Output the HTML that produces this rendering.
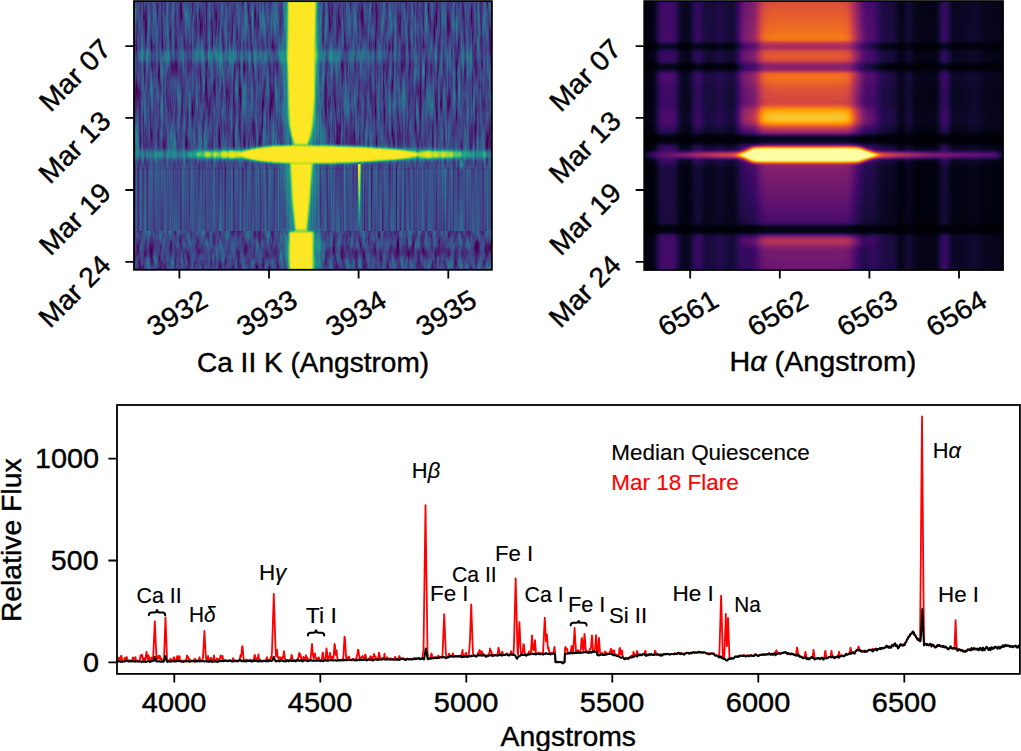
<!DOCTYPE html><html><head><meta charset="utf-8"><style>html,body{margin:0;padding:0;background:#fff;overflow:hidden}svg{display:block}</style></head><body><svg width="1021" height="751" viewBox="0 0 1021 751"><defs><clipPath id="clipB"><rect x="117.0" y="405.0" width="902.9" height="268.9"/></clipPath><filter id="cmV" filterUnits="userSpaceOnUse" x="134.0" y="1.1" width="357.9" height="268.7" color-interpolation-filters="sRGB"><feColorMatrix type="matrix" values="1 0 0 0 0 1 0 0 0 0 1 0 0 0 0 0 0 0 0 1"/><feComponentTransfer><feFuncR type="table" tableValues="0.267 0.277 0.282 0.283 0.279 0.271 0.259 0.245 0.230 0.214 0.199 0.186 0.173 0.161 0.149 0.138 0.128 0.121 0.121 0.132 0.158 0.197 0.246 0.304 0.369 0.440 0.516 0.596 0.678 0.762 0.846 0.926 0.993"/><feFuncG type="table" tableValues="0.005 0.050 0.095 0.136 0.175 0.214 0.252 0.288 0.322 0.356 0.388 0.419 0.449 0.479 0.508 0.537 0.567 0.596 0.626 0.655 0.684 0.712 0.739 0.765 0.789 0.811 0.831 0.849 0.864 0.876 0.887 0.897 0.906"/><feFuncB type="table" tableValues="0.329 0.376 0.417 0.453 0.483 0.507 0.525 0.537 0.546 0.551 0.555 0.557 0.558 0.558 0.557 0.555 0.551 0.544 0.533 0.520 0.502 0.479 0.452 0.420 0.383 0.341 0.294 0.243 0.190 0.137 0.100 0.104 0.144"/></feComponentTransfer></filter><filter id="cmI" filterUnits="userSpaceOnUse" x="644.25" y="1.1" width="358.75" height="268.9" color-interpolation-filters="sRGB"><feColorMatrix type="matrix" values="1 0 0 0 0 1 0 0 0 0 1 0 0 0 0 0 0 0 0 1"/><feComponentTransfer><feFuncR type="table" tableValues="0.001 0.014 0.042 0.082 0.129 0.183 0.238 0.291 0.342 0.391 0.441 0.491 0.541 0.591 0.640 0.689 0.736 0.781 0.822 0.861 0.894 0.923 0.947 0.965 0.978 0.986 0.988 0.984 0.975 0.961 0.948 0.955 0.988"/><feFuncG type="table" tableValues="0.000 0.011 0.028 0.043 0.047 0.040 0.037 0.046 0.062 0.081 0.099 0.117 0.135 0.153 0.171 0.192 0.216 0.243 0.275 0.312 0.353 0.399 0.449 0.502 0.558 0.616 0.675 0.736 0.798 0.859 0.917 0.966 0.998"/><feFuncB type="table" tableValues="0.014 0.072 0.141 0.215 0.291 0.355 0.396 0.419 0.429 0.433 0.432 0.426 0.415 0.400 0.381 0.358 0.330 0.300 0.266 0.231 0.194 0.155 0.115 0.074 0.035 0.026 0.065 0.130 0.206 0.298 0.411 0.540 0.645"/></feComponentTransfer></filter><filter id="nTop" filterUnits="userSpaceOnUse" x="134.0" y="1.1" width="357.9" height="166" color-interpolation-filters="sRGB"><feTurbulence type="fractalNoise" baseFrequency="0.36 0.025" numOctaves="3" seed="3"/><feColorMatrix type="matrix" values="0.72 0 0 0 -0.155 0.72 0 0 0 -0.155 0.72 0 0 0 -0.155 0 0 0 0 1"/></filter><filter id="nMid" filterUnits="userSpaceOnUse" x="134.0" y="160" width="357.9" height="71" color-interpolation-filters="sRGB"><feTurbulence type="fractalNoise" baseFrequency="0.45 0.005" numOctaves="2" seed="11"/><feColorMatrix type="matrix" values="0.62 0 0 0 -0.07500000000000001 0.62 0 0 0 -0.07500000000000001 0.62 0 0 0 -0.07500000000000001 0 0 0 0 1"/></filter><filter id="nBot" filterUnits="userSpaceOnUse" x="134.0" y="231" width="357.9" height="38.80000000000001" color-interpolation-filters="sRGB"><feTurbulence type="fractalNoise" baseFrequency="0.24 0.05" numOctaves="3" seed="5"/><feColorMatrix type="matrix" values="0.68 0 0 0 -0.13000000000000003 0.68 0 0 0 -0.13000000000000003 0.68 0 0 0 -0.13000000000000003 0 0 0 0 1"/></filter><filter id="bl1" x="-50%" y="-50%" width="200%" height="200%" color-interpolation-filters="sRGB"><feGaussianBlur stdDeviation="1.2 1.2"/></filter><filter id="bl05" x="-50%" y="-50%" width="200%" height="200%" color-interpolation-filters="sRGB"><feGaussianBlur stdDeviation="0.6 0.6"/></filter><filter id="bl2" x="-50%" y="-50%" width="200%" height="200%" color-interpolation-filters="sRGB"><feGaussianBlur stdDeviation="2.5 2.5"/></filter><filter id="bl3" x="-50%" y="-50%" width="200%" height="200%" color-interpolation-filters="sRGB"><feGaussianBlur stdDeviation="4 2"/></filter><linearGradient id="gFeather" gradientUnits="userSpaceOnUse" x1="0" y1="160" x2="0" y2="170"><stop offset="0" stop-color="#000"/><stop offset="1" stop-color="#fff"/></linearGradient><mask id="mFeather" maskUnits="userSpaceOnUse" x="130" y="150" width="370" height="90"><rect x="130" y="150" width="370" height="90" fill="url(#gFeather)"/></mask><linearGradient id="gBand" gradientUnits="userSpaceOnUse" x1="134" y1="0" x2="492" y2="0"><stop offset="0" stop-color="#fff" stop-opacity="0.14"/><stop offset="0.4" stop-color="#fff" stop-opacity="0.2"/><stop offset="0.5" stop-color="#fff" stop-opacity="0.22"/><stop offset="0.62" stop-color="#fff" stop-opacity="0.16"/><stop offset="0.8" stop-color="#fff" stop-opacity="0.07"/><stop offset="1" stop-color="#fff" stop-opacity="0.04"/></linearGradient><linearGradient id="gLine" x1="0" y1="0" x2="0" y2="1"><stop offset="0" stop-color="#fff" stop-opacity="1"/><stop offset="0.5" stop-color="#fff" stop-opacity="0.8"/><stop offset="1" stop-color="#fff" stop-opacity="0.15"/></linearGradient><linearGradient id="gWingL" gradientUnits="userSpaceOnUse" x1="134" y1="0" x2="240" y2="0"><stop offset="0" stop-color="#fff" stop-opacity="0.05"/><stop offset="0.5" stop-color="#fff" stop-opacity="0.1"/><stop offset="0.75" stop-color="#fff" stop-opacity="0.35"/><stop offset="1" stop-color="#fff" stop-opacity="0.75"/></linearGradient><linearGradient id="gWingR" gradientUnits="userSpaceOnUse" x1="420" y1="0" x2="492" y2="0"><stop offset="0" stop-color="#fff" stop-opacity="0.75"/><stop offset="0.45" stop-color="#fff" stop-opacity="0.4"/><stop offset="0.7" stop-color="#fff" stop-opacity="0.15"/><stop offset="1" stop-color="#fff" stop-opacity="0.1"/></linearGradient><clipPath id="clipL"><rect x="134.0" y="1.1" width="357.9" height="268.7"/></clipPath><clipPath id="clipR"><rect x="644.25" y="1.1" width="358.75" height="268.9"/></clipPath><linearGradient id="gOut" gradientUnits="userSpaceOnUse" x1="644" y1="0" x2="1004" y2="0"><stop offset="0.0000" stop-color="#070707"/><stop offset="0.0333" stop-color="#0a0a0a"/><stop offset="0.0417" stop-color="#3a3a3a"/><stop offset="0.0889" stop-color="#3a3a3a"/><stop offset="0.0972" stop-color="#111111"/><stop offset="0.1333" stop-color="#111111"/><stop offset="0.1389" stop-color="#333333"/><stop offset="0.1583" stop-color="#333333"/><stop offset="0.1639" stop-color="#1d1d1d"/><stop offset="0.1944" stop-color="#1d1d1d"/><stop offset="0.2000" stop-color="#242424"/><stop offset="0.2278" stop-color="#222222"/><stop offset="0.2333" stop-color="#181818"/><stop offset="0.2667" stop-color="#1f1f1f"/><stop offset="0.2833" stop-color="#000000"/><stop offset="0.6167" stop-color="#000000"/><stop offset="0.6333" stop-color="#242424"/><stop offset="0.7000" stop-color="#1f1f1f"/><stop offset="0.7083" stop-color="#0a0a0a"/><stop offset="0.7222" stop-color="#0a0a0a"/><stop offset="0.7278" stop-color="#1f1f1f"/><stop offset="0.7417" stop-color="#1d1d1d"/><stop offset="0.7472" stop-color="#0c0c0c"/><stop offset="0.8194" stop-color="#0c0c0c"/><stop offset="0.8250" stop-color="#353535"/><stop offset="0.8444" stop-color="#353535"/><stop offset="0.8500" stop-color="#111111"/><stop offset="0.8917" stop-color="#131313"/><stop offset="0.9194" stop-color="#181818"/><stop offset="0.9472" stop-color="#0f0f0f"/><stop offset="1.0000" stop-color="#0c0c0c"/></linearGradient><linearGradient id="gProf" gradientUnits="userSpaceOnUse" x1="644" y1="0" x2="1004" y2="0"><stop offset="0.0000" stop-color="#000000"/><stop offset="0.2556" stop-color="#000000"/><stop offset="0.2778" stop-color="#7a7a7a"/><stop offset="0.3111" stop-color="#999999"/><stop offset="0.3250" stop-color="#e6e6e6"/><stop offset="0.3389" stop-color="#fafafa"/><stop offset="0.3639" stop-color="#ffffff"/><stop offset="0.5444" stop-color="#ffffff"/><stop offset="0.5694" stop-color="#f7f7f7"/><stop offset="0.5889" stop-color="#a8a8a8"/><stop offset="0.6083" stop-color="#6b6b6b"/><stop offset="0.6306" stop-color="#383838"/><stop offset="0.6611" stop-color="#000000"/><stop offset="1.0000" stop-color="#000000"/></linearGradient><linearGradient id="gWing" gradientUnits="userSpaceOnUse" x1="644" y1="0" x2="1004" y2="0"><stop offset="0.0000" stop-color="#0d0d0d"/><stop offset="0.0333" stop-color="#3d3d3d"/><stop offset="0.1000" stop-color="#575757"/><stop offset="0.1556" stop-color="#757575"/><stop offset="0.2111" stop-color="#8c8c8c"/><stop offset="0.2556" stop-color="#9e9e9e"/><stop offset="0.6556" stop-color="#9e9e9e"/><stop offset="0.7111" stop-color="#808080"/><stop offset="0.7944" stop-color="#5c5c5c"/><stop offset="0.9778" stop-color="#404040"/><stop offset="1.0000" stop-color="#0d0d0d"/></linearGradient><linearGradient id="gOmod" gradientUnits="userSpaceOnUse" x1="0" y1="0" x2="0" y2="272"><stop offset="0.0000" stop-color="#d9d9d9"/><stop offset="0.1544" stop-color="#e6e6e6"/><stop offset="0.1618" stop-color="#404040"/><stop offset="0.1801" stop-color="#404040"/><stop offset="0.1875" stop-color="#cccccc"/><stop offset="0.2279" stop-color="#cccccc"/><stop offset="0.2353" stop-color="#333333"/><stop offset="0.2574" stop-color="#333333"/><stop offset="0.2647" stop-color="#e6e6e6"/><stop offset="0.2868" stop-color="#ffffff"/><stop offset="0.3309" stop-color="#d9d9d9"/><stop offset="0.3897" stop-color="#d9d9d9"/><stop offset="0.4301" stop-color="#ffffff"/><stop offset="0.4522" stop-color="#f2f2f2"/><stop offset="0.4890" stop-color="#999999"/><stop offset="0.5000" stop-color="#1a1a1a"/><stop offset="0.5257" stop-color="#1a1a1a"/><stop offset="0.5368" stop-color="#cccccc"/><stop offset="0.5993" stop-color="#cccccc"/><stop offset="0.6103" stop-color="#808080"/><stop offset="0.8235" stop-color="#737373"/><stop offset="0.8309" stop-color="#1a1a1a"/><stop offset="0.8566" stop-color="#1a1a1a"/><stop offset="0.8640" stop-color="#e6e6e6"/><stop offset="1.0000" stop-color="#e6e6e6"/></linearGradient><linearGradient id="gCval" gradientUnits="userSpaceOnUse" x1="0" y1="0" x2="0" y2="272"><stop offset="0.0000" stop-color="#949494"/><stop offset="0.0368" stop-color="#9e9e9e"/><stop offset="0.1103" stop-color="#adadad"/><stop offset="0.1471" stop-color="#b8b8b8"/><stop offset="0.1581" stop-color="#808080"/><stop offset="0.1765" stop-color="#6b6b6b"/><stop offset="0.1875" stop-color="#999999"/><stop offset="0.2132" stop-color="#a1a1a1"/><stop offset="0.2279" stop-color="#8c8c8c"/><stop offset="0.2353" stop-color="#616161"/><stop offset="0.2574" stop-color="#5c5c5c"/><stop offset="0.2684" stop-color="#adadad"/><stop offset="0.2868" stop-color="#b0b0b0"/><stop offset="0.3309" stop-color="#999999"/><stop offset="0.3824" stop-color="#8f8f8f"/><stop offset="0.4044" stop-color="#cccccc"/><stop offset="0.4301" stop-color="#e0e0e0"/><stop offset="0.4485" stop-color="#d6d6d6"/><stop offset="0.4706" stop-color="#8c8c8c"/><stop offset="0.4926" stop-color="#595959"/><stop offset="0.5000" stop-color="#0d0d0d"/><stop offset="0.5257" stop-color="#0d0d0d"/><stop offset="0.5368" stop-color="#6b6b6b"/><stop offset="0.5993" stop-color="#6b6b6b"/><stop offset="0.6103" stop-color="#5e5e5e"/><stop offset="0.6985" stop-color="#4f4f4f"/><stop offset="0.7904" stop-color="#3d3d3d"/><stop offset="0.8235" stop-color="#363636"/><stop offset="0.8309" stop-color="#080808"/><stop offset="0.8566" stop-color="#080808"/><stop offset="0.8676" stop-color="#5c5c5c"/><stop offset="0.8879" stop-color="#858585"/><stop offset="0.9007" stop-color="#6b6b6b"/><stop offset="0.9191" stop-color="#545454"/><stop offset="1.0000" stop-color="#4c4c4c"/></linearGradient><linearGradient id="gWrow" gradientUnits="userSpaceOnUse" x1="0" y1="0" x2="0" y2="272"><stop offset="0.0000" stop-color="#000000"/><stop offset="0.5533" stop-color="#000000"/><stop offset="0.5643" stop-color="#ffffff"/><stop offset="0.5754" stop-color="#ffffff"/><stop offset="0.5864" stop-color="#000000"/><stop offset="1.0000" stop-color="#000000"/></linearGradient><mask id="mOmod" maskUnits="userSpaceOnUse" x="600" y="-10" width="450" height="300"><rect x="600" y="-10" width="450" height="300" fill="url(#gOmod)"/></mask><mask id="mCval" maskUnits="userSpaceOnUse" x="600" y="-10" width="450" height="300"><rect x="600" y="-10" width="450" height="300" fill="url(#gCval)"/></mask><mask id="mWrow" maskUnits="userSpaceOnUse" x="600" y="-10" width="450" height="300"><rect x="600" y="-10" width="450" height="300" fill="url(#gWrow)"/></mask><filter id="cmIb" filterUnits="userSpaceOnUse" x="644.25" y="1.1" width="358.75" height="268.9" color-interpolation-filters="sRGB"><feGaussianBlur stdDeviation="2.6 1.6"/><feColorMatrix type="matrix" values="1 0 0 0 0 1 0 0 0 0 1 0 0 0 0 0 0 0 0 1"/><feComponentTransfer><feFuncR type="table" tableValues="0.001 0.014 0.042 0.082 0.129 0.183 0.238 0.291 0.342 0.391 0.441 0.491 0.541 0.591 0.640 0.689 0.736 0.781 0.822 0.861 0.894 0.923 0.947 0.965 0.978 0.986 0.988 0.984 0.975 0.961 0.948 0.955 0.988"/><feFuncG type="table" tableValues="0.000 0.011 0.028 0.043 0.047 0.040 0.037 0.046 0.062 0.081 0.099 0.117 0.135 0.153 0.171 0.192 0.216 0.243 0.275 0.312 0.353 0.399 0.449 0.502 0.558 0.616 0.675 0.736 0.798 0.859 0.917 0.966 0.998"/><feFuncB type="table" tableValues="0.014 0.072 0.141 0.215 0.291 0.355 0.396 0.419 0.429 0.433 0.432 0.426 0.415 0.400 0.381 0.358 0.330 0.300 0.266 0.231 0.194 0.155 0.115 0.074 0.035 0.026 0.065 0.130 0.206 0.298 0.411 0.540 0.645"/></feComponentTransfer></filter></defs><rect x="0" y="0" width="1021" height="751" fill="#fff"/><g filter="url(#cmV)" clip-path="url(#clipL)"><rect x="134.0" y="1.1" width="357.9" height="268.7" fill="#000"/><rect x="134.0" y="1.1" width="357.9" height="166" filter="url(#nTop)"/><g mask="url(#mFeather)"><rect x="134.0" y="160" width="357.9" height="71" filter="url(#nMid)"/></g><rect x="134.0" y="231" width="357.9" height="38.8" filter="url(#nBot)"/><rect x="134.0" y="50.5" width="357.9" height="11" fill="url(#gBand)" filter="url(#bl3)"/><rect x="134.0" y="248" width="150" height="8" fill="#000" opacity="0.2" filter="url(#bl3)"/><rect x="325" y="248" width="170" height="8" fill="#000" opacity="0.35" filter="url(#bl3)"/><rect x="134.0" y="150" width="357.9" height="9" fill="#fff" opacity="0.22" filter="url(#bl3)"/><path d="M283 0H321V145H283ZM282 164H320L313 231H289ZM284 231H322V270H284Z" fill="#fff" opacity="0.3" filter="url(#bl2)"/><ellipse cx="330" cy="154.3" rx="135" ry="5.5" fill="#fff" opacity="0.55" filter="url(#bl2)"/><path d="M287.5 1L287 60L288 100L289 125L291 135L294 145H308L311 135L313 125L315 100L315.5 60L316.5 1ZM289.8 163L292 200L295 230.5H307L310 200L312.8 163ZM289 231.5H313.5V270H289Z" fill="#fff" filter="url(#bl1)"/><path d="M235 154.3L245 150.5L259.4 147.2L275 145.6L294 145L330 145.6L360 146.6L380 148L400 149.6L412 151.5L424 154.6L412 157.6L400 159.4L380 161L360 162.5L330 163.7L294 163.7L275 163L259.4 161.5L245 158.3Z" fill="#fff" filter="url(#bl1)"/><path d="M357.9 164H360.7L360.3 200L359.9 226H358.5L358.3 200Z" fill="url(#gLine)" filter="url(#bl05)"/><ellipse cx="207.7" cy="154.5" rx="3.0" ry="3" fill="#fff" opacity="0.7200000000000001" filter="url(#bl1)"/><ellipse cx="215" cy="154.5" rx="2.4" ry="2.5" fill="#fff" opacity="0.5599999999999999" filter="url(#bl1)"/><ellipse cx="224" cy="154.5" rx="3.0" ry="3.2" fill="#fff" opacity="0.7200000000000001" filter="url(#bl1)"/><ellipse cx="232" cy="154.5" rx="3.5999999999999996" ry="3.8" fill="#fff" opacity="0.76" filter="url(#bl1)"/><ellipse cx="190" cy="154.5" rx="2.4" ry="2.5" fill="#fff" opacity="0.32000000000000006" filter="url(#bl1)"/><ellipse cx="160" cy="154.5" rx="1.7999999999999998" ry="3" fill="#fff" opacity="0.24" filter="url(#bl1)"/><ellipse cx="198" cy="154.5" rx="2.4" ry="2.5" fill="#fff" opacity="0.36000000000000004" filter="url(#bl1)"/><ellipse cx="428" cy="154.6" rx="3.5999999999999996" ry="3.5" fill="#fff" opacity="0.7200000000000001" filter="url(#bl1)"/><ellipse cx="436" cy="154.6" rx="2.4" ry="3" fill="#fff" opacity="0.6400000000000001" filter="url(#bl1)"/><ellipse cx="444" cy="154.6" rx="3.0" ry="3" fill="#fff" opacity="0.6400000000000001" filter="url(#bl1)"/><ellipse cx="451" cy="154.6" rx="2.4" ry="3" fill="#fff" opacity="0.5599999999999999" filter="url(#bl1)"/><ellipse cx="460" cy="154.6" rx="1.7999999999999998" ry="3" fill="#fff" opacity="0.4" filter="url(#bl1)"/><ellipse cx="470" cy="154.6" rx="1.7999999999999998" ry="3" fill="#fff" opacity="0.36000000000000004" filter="url(#bl1)"/><ellipse cx="485" cy="154.6" rx="1.7999999999999998" ry="3" fill="#fff" opacity="0.36000000000000004" filter="url(#bl1)"/><rect x="134" y="151" width="106" height="7" fill="url(#gWingL)" filter="url(#bl1)"/><rect x="420" y="151" width="72" height="7" fill="url(#gWingR)" filter="url(#bl1)"/><ellipse cx="461.4" cy="164" rx="1.2" ry="5" fill="#fff" opacity="0.6" filter="url(#bl1)"/></g><g clip-path="url(#clipR)"><g filter="url(#cmIb)"><rect x="636.25" y="-6.9" width="374.75" height="284.9" fill="#000"/><rect x="636.25" y="-6.9" width="374.75" height="284.9" fill="url(#gOut)" mask="url(#mOmod)"/><rect x="636.25" y="-6.9" width="374.75" height="284.9" fill="url(#gProf)" mask="url(#mCval)" style="mix-blend-mode:screen"/><rect x="636.25" y="-6.9" width="374.75" height="284.9" fill="url(#gWing)" mask="url(#mWrow)" style="mix-blend-mode:lighten"/><path d="M736.4 154.9L753 147.1H859L881 154.9L859 162.7H753Z" fill="#fff"/></g></g><g clip-path="url(#clipB)"><polyline points="117.0,660.9 117.5,659.9 118.0,657.5 118.5,659.5 119.0,659.7 119.5,658.0 120.0,658.0 120.5,659.7 121.0,655.8 121.5,655.8 122.0,659.9 122.5,661.3 123.0,661.3 123.5,661.0 124.0,660.9 124.5,658.0 125.0,658.2 125.5,660.1 126.0,658.5 126.5,656.9 127.0,657.9 127.5,659.5 128.0,660.8 128.5,660.9 129.0,660.5 129.5,660.5 130.0,660.4 130.5,660.6 131.0,660.8 131.5,660.8 132.0,660.3 132.5,658.9 133.0,657.4 133.5,657.8 134.0,659.5 134.5,660.9 135.0,659.2 135.5,657.2 136.0,660.4 136.5,661.0 137.0,660.6 137.5,660.7 138.0,660.6 138.5,661.2 139.0,661.3 139.5,660.8 140.0,659.6 140.5,655.4 141.0,656.9 141.5,656.3 142.0,654.6 142.5,656.9 143.0,659.5 143.5,659.8 144.0,658.4 144.5,660.6 145.0,660.8 145.5,658.5 146.0,655.4 146.5,652.0 147.0,655.1 147.5,658.3 148.0,659.3 148.5,655.4 149.0,656.9 149.5,659.7 150.0,661.2 150.5,661.0 151.0,659.6 151.5,657.3 152.0,658.7 152.5,660.5 153.0,660.4 153.5,650.4 154.0,639.4 154.5,628.1 154.8,621.3 155.0,625.7 155.5,637.0 156.0,648.3 156.5,658.6 157.0,657.4 157.5,659.4 158.0,656.2 158.5,658.1 159.0,655.7 159.5,658.3 160.0,656.0 160.5,659.6 161.0,658.2 161.5,658.8 162.0,660.4 162.5,661.0 163.0,660.9 163.5,660.7 164.0,658.7 164.5,645.0 165.0,631.3 165.4,620.2 165.5,617.4 166.0,631.2 166.5,645.0 167.0,658.9 167.5,661.0 168.0,660.4 168.5,660.3 169.0,660.9 169.5,661.2 170.0,660.0 170.5,658.7 171.0,660.1 171.5,660.7 172.0,660.7 172.5,659.8 173.0,659.8 173.5,658.0 174.0,657.1 174.5,658.2 175.0,661.0 175.5,660.8 176.0,660.2 176.5,660.2 177.0,656.9 177.5,656.0 178.0,659.6 178.5,660.8 179.0,657.5 179.5,656.1 180.0,659.8 180.5,661.1 181.0,661.3 181.5,661.3 182.0,660.8 182.5,660.5 183.0,660.9 183.5,661.4 184.0,661.1 184.5,660.7 185.0,660.3 185.5,660.4 186.0,660.5 186.5,658.5 187.0,655.4 187.5,656.6 188.0,658.3 188.5,657.3 189.0,660.0 189.5,660.8 190.0,659.8 190.5,660.5 191.0,660.3 191.5,660.5 192.0,660.8 192.5,661.0 193.0,660.9 193.5,660.7 194.0,660.3 194.5,658.8 195.0,660.4 195.5,659.2 196.0,660.1 196.5,660.9 197.0,661.0 197.5,660.9 198.0,660.4 198.5,660.0 199.0,658.6 199.5,657.3 200.0,659.6 200.5,660.8 201.0,660.9 201.5,660.5 202.0,660.3 202.5,659.9 203.0,657.3 203.5,647.9 204.0,638.7 204.4,631.0 204.5,632.9 205.0,642.4 205.5,651.8 206.0,658.1 206.5,660.2 207.0,658.7 207.5,659.2 208.0,656.0 208.5,660.2 209.0,660.7 209.5,660.5 210.0,659.5 210.5,658.1 211.0,657.8 211.5,659.8 212.0,660.9 212.5,660.6 213.0,660.4 213.5,658.1 214.0,655.5 214.5,659.7 215.0,660.3 215.5,660.2 216.0,660.4 216.5,659.6 217.0,658.3 217.5,659.7 218.0,659.4 218.5,659.6 219.0,659.1 219.5,659.4 220.0,659.0 220.5,655.4 221.0,656.9 221.5,657.6 222.0,658.1 222.5,655.9 223.0,658.5 223.5,660.3 224.0,660.8 224.5,660.3 225.0,660.0 225.5,660.2 226.0,660.7 226.5,660.5 227.0,660.6 227.5,660.6 228.0,660.7 228.5,660.6 229.0,660.2 229.5,660.0 230.0,660.1 230.5,660.5 231.0,660.6 231.5,660.5 232.0,660.7 232.5,660.2 233.0,658.1 233.5,659.2 234.0,660.5 234.5,660.4 235.0,660.3 235.5,660.4 236.0,660.4 236.5,660.6 237.0,660.9 237.5,660.9 238.0,660.6 238.5,660.4 239.0,660.0 239.5,660.1 240.0,658.1 240.5,655.1 241.0,656.9 241.5,653.3 242.0,647.4 242.5,646.1 243.0,651.9 243.5,657.8 244.0,660.5 244.5,660.5 245.0,660.3 245.5,660.0 246.0,660.1 246.5,660.4 247.0,659.5 247.5,660.3 248.0,660.1 248.5,660.2 249.0,660.2 249.5,660.3 250.0,659.8 250.5,659.7 251.0,659.6 251.5,660.3 252.0,660.7 252.5,660.6 253.0,660.4 253.5,660.4 254.0,659.2 254.5,655.2 255.0,655.1 255.5,658.6 256.0,660.4 256.5,660.4 257.0,660.3 257.5,657.9 258.0,657.0 258.5,654.3 259.0,659.1 259.5,659.9 260.0,659.8 260.5,660.2 261.0,660.7 261.5,661.0 262.0,660.8 262.5,660.7 263.0,660.6 263.5,660.5 264.0,660.4 264.5,660.4 265.0,660.4 265.5,660.4 266.0,660.4 266.5,658.1 267.0,657.1 267.5,659.6 268.0,659.9 268.5,660.0 269.0,659.8 269.5,660.0 270.0,659.3 270.5,658.7 271.0,656.7 271.5,658.7 272.0,651.3 272.5,635.5 273.0,619.5 273.5,603.4 273.8,593.9 274.0,600.4 274.5,616.4 275.0,632.3 275.5,648.3 276.0,656.5 276.5,651.0 277.0,649.7 277.5,655.4 278.0,657.5 278.5,657.2 279.0,659.6 279.5,658.7 280.0,657.2 280.5,658.2 281.0,660.0 281.5,660.0 282.0,658.0 282.5,656.8 283.0,658.2 283.5,655.2 284.0,651.2 284.5,655.4 285.0,659.4 285.5,660.7 286.0,660.2 286.5,659.9 287.0,659.8 287.5,660.2 288.0,660.1 288.5,660.1 289.0,660.0 289.5,660.2 290.0,660.3 290.5,660.2 291.0,658.6 291.5,655.0 292.0,655.7 292.5,659.4 293.0,660.4 293.5,660.2 294.0,660.1 294.5,660.4 295.0,660.2 295.5,660.3 296.0,660.2 296.5,660.0 297.0,659.5 297.5,659.2 298.0,659.3 298.5,657.3 299.0,653.7 299.5,652.9 300.0,656.7 300.5,654.6 301.0,657.0 301.5,660.0 302.0,660.4 302.5,660.5 303.0,659.2 303.5,656.9 304.0,658.6 304.5,659.5 305.0,659.6 305.5,657.4 306.0,655.1 306.5,658.7 307.0,657.3 307.5,658.0 308.0,659.3 308.5,660.3 309.0,660.4 309.5,659.9 310.0,659.2 310.5,659.2 311.0,654.8 311.5,649.3 312.0,644.0 312.5,649.6 313.0,655.2 313.5,658.2 314.0,654.5 314.5,655.1 315.0,653.4 315.5,658.5 316.0,658.1 316.5,658.7 317.0,659.7 317.5,658.8 318.0,658.1 318.5,657.2 319.0,658.2 319.5,659.8 320.0,660.2 320.5,660.2 321.0,660.1 321.5,660.1 322.0,658.4 322.5,653.3 323.0,652.6 323.5,657.8 324.0,659.6 324.5,659.7 325.0,659.6 325.5,659.2 326.0,653.9 326.5,648.4 327.0,651.7 327.5,657.4 328.0,659.9 328.5,656.9 329.0,656.3 329.5,657.5 330.0,652.8 330.5,657.3 331.0,659.5 331.5,657.0 332.0,657.1 332.5,658.2 333.0,656.2 333.5,658.0 334.0,652.2 334.5,644.0 335.0,645.6 335.5,653.8 336.0,655.3 336.5,650.1 337.0,655.4 337.5,659.4 338.0,659.7 338.5,659.9 339.0,660.1 339.5,660.1 340.0,659.8 340.5,659.8 341.0,660.0 341.5,659.8 342.0,659.7 342.5,660.0 343.0,660.0 343.5,654.9 344.0,645.8 344.5,636.7 345.0,638.6 345.5,647.5 346.0,656.0 346.5,659.4 347.0,659.4 347.5,657.5 348.0,658.2 348.5,657.8 349.0,656.6 349.5,658.5 350.0,659.8 350.5,659.8 351.0,659.7 351.5,659.8 352.0,659.6 352.5,659.2 353.0,658.8 353.5,659.1 354.0,659.6 354.5,659.7 355.0,659.4 355.5,659.6 356.0,659.6 356.5,657.4 357.0,656.1 357.5,653.8 358.0,649.6 358.5,650.4 359.0,654.4 359.5,657.4 360.0,658.7 360.5,658.4 361.0,657.5 361.5,657.2 362.0,656.6 362.5,656.0 363.0,657.6 363.5,657.8 364.0,659.5 364.5,657.9 365.0,654.9 365.5,654.7 366.0,657.2 366.5,659.6 367.0,659.8 367.5,659.6 368.0,659.6 368.5,659.4 369.0,659.4 369.5,659.5 370.0,656.9 370.5,656.2 371.0,658.9 371.5,657.7 372.0,657.2 372.5,658.9 373.0,659.4 373.5,656.7 374.0,654.0 374.5,656.7 375.0,656.8 375.5,656.3 376.0,658.4 376.5,659.2 377.0,659.0 377.5,658.9 378.0,659.2 378.5,655.9 379.0,652.6 379.5,654.5 380.0,657.7 380.5,658.8 381.0,658.9 381.5,658.7 382.0,658.2 382.5,658.0 383.0,658.3 383.5,657.9 384.0,657.9 384.5,653.6 385.0,657.2 385.5,659.3 386.0,659.1 386.5,658.6 387.0,657.2 387.5,658.1 388.0,658.9 388.5,658.6 389.0,658.7 389.5,658.7 390.0,658.6 390.5,658.4 391.0,658.5 391.5,658.7 392.0,658.9 392.5,659.0 393.0,659.4 393.5,659.5 394.0,659.5 394.5,658.6 395.0,656.8 395.5,657.3 396.0,659.1 396.5,659.5 397.0,659.3 397.5,659.0 398.0,659.1 398.5,658.7 399.0,656.7 399.5,656.0 400.0,657.9 400.5,658.5 401.0,658.5 401.5,658.5 402.0,658.5 402.5,658.2 403.0,658.2 403.5,658.7 404.0,658.8 404.5,658.7 405.0,658.9 405.5,659.4 406.0,659.4 406.5,659.1 407.0,658.8 407.5,658.7 408.0,658.8 408.5,659.1 409.0,659.1 409.5,659.0 410.0,658.9 410.5,658.8 411.0,659.0 411.5,659.1 412.0,659.1 412.5,658.7 413.0,658.5 413.5,658.6 414.0,658.9 414.5,658.3 415.0,658.2 415.5,658.5 416.0,658.7 416.5,658.5 417.0,658.4 417.5,658.6 418.0,658.6 418.5,658.5 419.0,658.4 419.5,658.6 420.0,658.8 420.5,658.7 421.0,658.5 421.5,658.4 422.0,658.4 422.5,657.8 423.0,652.6 423.5,651.6 424.0,615.1 424.5,578.6 425.0,541.9 425.5,505.1 425.8,527.0 426.0,541.6 426.5,578.1 427.0,614.7 427.5,651.6 428.0,658.3 428.5,658.2 429.0,658.2 429.5,658.3 430.0,658.2 430.5,658.0 431.0,655.2 431.5,653.5 432.0,656.1 432.5,657.5 433.0,657.8 433.5,657.8 434.0,657.6 434.5,657.6 435.0,657.6 435.5,657.4 436.0,657.4 436.5,657.6 437.0,657.8 437.5,657.6 438.0,656.0 438.5,655.6 439.0,657.4 439.5,657.6 440.0,657.1 440.5,656.9 441.0,657.0 441.5,657.2 442.0,657.3 442.5,655.0 443.0,642.9 443.5,630.9 444.0,618.9 444.2,614.2 444.5,621.2 445.0,633.2 445.5,645.5 446.0,655.0 446.5,656.1 447.0,657.1 447.5,656.9 448.0,656.8 448.5,655.5 449.0,653.6 449.5,654.8 450.0,656.5 450.5,656.3 451.0,655.9 451.5,655.9 452.0,656.1 452.5,654.4 453.0,653.3 453.5,655.3 454.0,656.2 454.5,656.1 455.0,656.0 455.5,656.0 456.0,656.0 456.5,656.1 457.0,656.1 457.5,655.8 458.0,655.8 458.5,656.0 459.0,656.4 459.5,656.0 460.0,655.7 460.5,655.5 461.0,655.8 461.5,656.0 462.0,653.3 462.5,649.8 463.0,653.9 463.5,656.2 464.0,656.2 464.5,656.0 465.0,656.1 465.5,653.5 466.0,652.6 466.5,655.1 467.0,655.9 467.5,655.9 468.0,656.0 468.5,656.0 469.0,651.8 469.5,647.7 470.0,639.0 470.5,624.6 471.0,610.3 471.2,604.3 471.5,612.8 472.0,627.2 472.5,641.6 473.0,653.0 473.5,655.5 474.0,655.4 474.5,655.3 475.0,655.6 475.5,655.9 476.0,656.0 476.5,656.0 477.0,655.6 477.5,654.9 478.0,652.7 478.5,654.3 479.0,652.8 479.5,649.8 480.0,652.6 480.5,654.0 481.0,653.4 481.5,651.1 482.0,651.7 482.5,654.5 483.0,653.5 483.5,654.0 484.0,655.1 484.5,654.8 485.0,655.0 485.5,655.5 486.0,655.8 486.5,655.7 487.0,655.5 487.5,655.3 488.0,655.1 488.5,654.9 489.0,653.5 489.5,653.2 490.0,648.3 490.5,651.9 491.0,650.6 491.5,652.5 492.0,654.6 492.5,655.3 493.0,655.1 493.5,654.7 494.0,654.9 494.5,655.0 495.0,654.9 495.5,654.9 496.0,655.1 496.5,655.1 497.0,654.9 497.5,654.8 498.0,651.2 498.5,647.6 499.0,649.8 499.5,653.2 500.0,654.5 500.5,654.2 501.0,654.2 501.5,653.9 502.0,651.7 502.5,652.0 503.0,654.1 503.5,654.6 504.0,654.6 504.5,654.7 505.0,654.9 505.5,654.5 506.0,654.2 506.5,654.2 507.0,653.1 507.5,654.0 508.0,654.7 508.5,655.0 509.0,655.1 509.5,654.8 510.0,654.3 510.5,653.0 511.0,651.2 511.5,652.4 512.0,654.1 512.5,654.5 513.0,654.6 513.5,654.8 514.0,643.4 514.5,623.9 515.0,604.4 515.5,585.9 515.7,578.5 516.0,590.7 516.5,611.1 517.0,631.4 517.5,650.2 518.0,655.0 518.5,643.3 519.0,631.6 519.4,622.1 519.5,624.3 520.0,635.3 520.5,646.5 521.0,654.1 521.5,654.3 522.0,654.8 522.5,654.5 523.0,649.6 523.5,644.1 524.0,645.2 524.5,650.7 525.0,654.1 525.5,654.1 526.0,654.6 526.5,654.9 527.0,654.7 527.5,654.4 528.0,654.2 528.5,653.1 529.0,651.4 529.5,652.8 530.0,654.1 530.5,653.9 531.0,651.2 531.5,643.3 532.0,635.3 532.5,643.1 533.0,649.7 533.5,648.9 534.0,650.3 534.5,643.8 535.0,640.1 535.5,646.7 536.0,653.0 536.5,653.3 537.0,653.4 537.5,653.4 538.0,653.5 538.5,653.3 539.0,652.8 539.5,652.8 540.0,653.0 540.5,653.4 541.0,653.3 541.5,653.2 542.0,653.2 542.5,653.3 543.0,653.6 543.5,644.0 544.0,633.6 544.5,623.6 544.8,617.7 545.0,621.8 545.5,631.5 546.0,641.3 546.5,639.6 547.0,634.6 547.5,643.4 548.0,648.9 548.5,647.5 549.0,650.8 549.5,652.7 550.0,653.2 550.5,653.6 551.0,653.1 551.5,652.9 552.0,652.9 552.5,653.4 553.0,653.2 553.5,653.1 554.0,649.4 554.5,647.0 555.0,651.9 555.5,662.2 556.0,662.2 556.5,662.2 557.0,662.2 557.5,662.2 558.0,662.2 558.5,662.2 559.0,662.2 559.5,662.2 560.0,662.2 560.5,662.2 561.0,662.2 561.5,662.2 562.0,662.2 562.5,662.2 563.0,662.2 563.5,662.2 564.0,662.2 564.5,662.2 565.0,648.7 565.5,646.8 566.0,649.7 566.5,649.1 567.0,648.6 567.5,651.5 568.0,652.5 568.5,652.7 569.0,652.8 569.5,652.8 570.0,652.5 570.5,652.5 571.0,650.1 571.5,646.4 572.0,646.0 572.5,649.7 573.0,652.9 573.5,646.5 574.0,638.2 574.5,629.7 574.6,627.9 575.0,634.7 575.5,643.0 576.0,651.2 576.5,652.6 577.0,652.4 577.5,651.8 578.0,650.0 578.5,651.5 579.0,651.9 579.5,652.1 580.0,652.3 580.5,651.6 581.0,646.8 581.5,639.5 582.0,638.0 582.5,645.2 583.0,648.8 583.5,650.8 584.0,642.2 584.5,633.8 585.0,638.9 585.5,647.3 586.0,651.3 586.5,651.2 587.0,651.4 587.5,651.3 588.0,651.6 588.5,651.9 589.0,652.4 589.5,651.5 590.0,648.7 590.5,649.1 591.0,647.6 591.5,640.2 592.0,635.4 592.5,642.4 593.0,650.0 593.5,651.1 594.0,651.1 594.5,650.9 595.0,648.9 595.5,642.0 596.0,635.1 596.5,641.9 597.0,650.7 597.5,654.8 598.0,652.4 598.5,645.1 599.0,637.8 599.5,645.0 600.0,652.2 600.5,654.3 601.0,654.1 601.5,653.8 602.0,652.9 602.5,654.0 603.0,654.4 603.5,654.2 604.0,654.2 604.5,653.6 605.0,651.4 605.5,651.7 606.0,653.0 606.5,652.8 607.0,653.5 607.5,653.6 608.0,653.8 608.5,653.5 609.0,653.6 609.5,653.4 610.0,651.6 610.5,650.8 611.0,648.6 611.5,651.4 612.0,653.0 612.5,650.4 613.0,652.8 613.5,650.8 614.0,650.3 614.5,653.3 615.0,654.3 615.5,654.6 616.0,655.0 616.5,655.1 617.0,655.0 617.5,655.3 618.0,655.8 618.5,656.1 619.0,652.9 619.5,648.5 620.0,647.9 620.5,652.8 621.0,654.6 621.5,651.5 622.0,650.4 622.5,654.2 623.0,657.4 623.5,657.7 624.0,658.4 624.5,658.8 625.0,658.9 625.5,657.8 626.0,657.7 626.5,658.3 627.0,658.4 627.5,658.2 628.0,658.2 628.5,658.1 629.0,657.5 629.5,657.1 630.0,657.1 630.5,657.0 631.0,655.9 631.5,655.5 632.0,656.5 632.5,656.1 633.0,654.5 633.5,651.8 634.0,653.5 634.5,655.2 635.0,655.2 635.5,655.2 636.0,655.2 636.5,653.5 637.0,650.8 637.5,652.3 638.0,654.7 638.5,654.5 639.0,654.6 639.5,654.8 640.0,654.4 640.5,654.5 641.0,654.9 641.5,655.0 642.0,654.7 642.5,654.5 643.0,654.4 643.5,654.3 644.0,654.3 644.5,653.8 645.0,651.3 645.5,650.9 646.0,653.8 646.5,654.6 647.0,654.3 647.5,654.7 648.0,654.9 648.5,654.3 649.0,654.0 649.5,654.1 650.0,654.3 650.5,654.5 651.0,654.3 651.5,654.4 652.0,654.6 652.5,654.6 653.0,654.6 653.5,654.7 654.0,654.7 654.5,653.4 655.0,650.7 655.5,651.2 656.0,653.7 656.5,654.4 657.0,654.4 657.5,654.2 658.0,654.3 658.5,654.6 659.0,654.6 659.5,654.6 660.0,655.0 660.5,654.8 661.0,654.3 661.5,654.4 662.0,654.9 662.5,654.7 663.0,654.4 663.5,654.2 664.0,654.1 664.5,654.1 665.0,654.1 665.5,654.1 666.0,653.9 666.5,653.8 667.0,653.9 667.5,654.0 668.0,654.0 668.5,654.1 669.0,654.2 669.5,654.1 670.0,654.1 670.5,654.0 671.0,653.9 671.5,653.9 672.0,654.0 672.5,653.9 673.0,653.9 673.5,654.1 674.0,653.8 674.5,653.5 675.0,653.4 675.5,653.6 676.0,653.6 676.5,653.7 677.0,653.8 677.5,653.5 678.0,653.1 678.5,653.1 679.0,653.1 679.5,653.4 680.0,653.7 680.5,653.7 681.0,653.2 681.5,653.2 682.0,653.6 682.5,653.6 683.0,653.6 683.5,653.8 684.0,653.9 684.5,653.6 685.0,653.2 685.5,653.2 686.0,653.2 686.5,653.0 687.0,652.8 687.5,652.8 688.0,652.6 688.5,652.8 689.0,653.1 689.5,653.3 690.0,653.0 690.5,652.7 691.0,652.6 691.5,652.6 692.0,652.8 692.5,652.7 693.0,652.5 693.5,652.4 694.0,652.5 694.5,652.6 695.0,652.4 695.5,652.3 696.0,652.4 696.5,652.5 697.0,652.5 697.5,652.5 698.0,652.2 698.5,651.9 699.0,652.0 699.5,652.2 700.0,651.8 700.5,652.0 701.0,652.4 701.5,652.4 702.0,652.3 702.5,652.4 703.0,652.5 703.5,652.4 704.0,652.3 704.5,652.5 705.0,652.7 705.5,652.8 706.0,653.1 706.5,653.3 707.0,653.3 707.5,653.2 708.0,653.4 708.5,653.4 709.0,653.5 709.5,653.5 710.0,653.4 710.5,653.5 711.0,653.6 711.5,653.5 712.0,653.5 712.5,653.5 713.0,653.5 713.5,653.5 714.0,654.0 714.5,654.6 715.0,655.2 715.5,655.3 716.0,655.2 716.5,655.3 717.0,655.6 717.5,656.0 718.0,656.3 718.5,656.6 719.0,657.0 719.5,650.1 720.0,632.8 720.5,615.7 721.0,598.7 721.1,595.6 721.5,609.8 722.0,627.1 722.5,644.2 723.0,658.2 723.5,658.6 724.0,658.5 724.5,652.7 725.0,637.6 725.5,622.7 725.8,613.8 726.0,620.1 726.5,635.6 727.0,646.2 727.5,632.2 728.0,617.9 728.5,631.3 729.0,645.1 729.5,658.7 730.0,658.4 730.5,658.4 731.0,658.1 731.5,658.0 732.0,658.2 732.5,658.3 733.0,658.0 733.5,657.9 734.0,657.8 734.5,657.3 735.0,656.8 735.5,656.7 736.0,656.6 736.5,656.5 737.0,656.7 737.5,656.7 738.0,656.3 738.5,656.2 739.0,656.3 739.5,656.0 740.0,655.6 740.5,655.8 741.0,655.8 741.5,655.7 742.0,655.7 742.5,655.3 743.0,655.2 743.5,655.4 744.0,655.7 744.5,655.4 745.0,655.4 745.5,655.7 746.0,656.0 746.5,655.6 747.0,655.4 747.5,655.4 748.0,655.4 748.5,655.5 749.0,655.6 749.5,655.6 750.0,655.5 750.5,655.2 751.0,655.2 751.5,655.3 752.0,655.4 752.5,655.5 753.0,655.5 753.5,655.5 754.0,655.5 754.5,655.1 755.0,654.6 755.5,654.4 756.0,654.7 756.5,655.1 757.0,655.2 757.5,655.3 758.0,655.4 758.5,655.5 759.0,655.3 759.5,654.8 760.0,654.7 760.5,654.7 761.0,654.7 761.5,654.5 762.0,654.7 762.5,654.7 763.0,654.5 763.5,654.4 764.0,654.5 764.5,654.5 765.0,654.5 765.5,654.4 766.0,654.2 766.5,654.0 767.0,654.1 767.5,654.3 768.0,654.3 768.5,653.9 769.0,653.5 769.5,653.6 770.0,654.2 770.5,654.4 771.0,654.2 771.5,653.8 772.0,653.7 772.5,654.2 773.0,654.4 773.5,654.0 774.0,653.5 774.5,653.4 775.0,653.9 775.5,653.5 776.0,650.9 776.5,650.3 777.0,652.3 777.5,653.4 778.0,653.4 778.5,653.2 779.0,653.2 779.5,653.4 780.0,653.4 780.5,653.4 781.0,653.3 781.5,653.1 782.0,653.0 782.5,653.0 783.0,652.9 783.5,652.7 784.0,652.6 784.5,652.6 785.0,652.5 785.5,652.6 786.0,652.7 786.5,653.0 787.0,653.4 787.5,653.4 788.0,653.0 788.5,653.1 789.0,653.6 789.5,653.6 790.0,653.8 790.5,654.0 791.0,653.9 791.5,653.6 792.0,653.7 792.5,654.1 793.0,654.2 793.5,654.2 794.0,654.4 794.5,654.9 795.0,655.0 795.5,655.0 796.0,654.8 796.5,651.2 797.0,647.4 797.5,649.8 798.0,653.8 798.5,655.6 799.0,655.5 799.5,656.0 800.0,656.7 800.5,656.7 801.0,656.4 801.5,656.7 802.0,656.9 802.5,657.2 803.0,657.7 803.5,657.8 804.0,657.6 804.5,657.1 805.0,654.0 805.5,651.8 806.0,655.2 806.5,658.2 807.0,658.5 807.5,658.3 808.0,658.1 808.5,658.3 809.0,658.6 809.5,658.6 810.0,658.1 810.5,657.8 811.0,657.8 811.5,657.6 812.0,657.6 812.5,657.9 813.0,654.5 813.5,649.9 814.0,653.0 814.5,658.0 815.0,658.6 815.5,658.5 816.0,658.4 816.5,658.3 817.0,658.3 817.5,658.4 818.0,658.2 818.5,658.1 819.0,658.2 819.5,658.5 820.0,658.8 820.5,658.5 821.0,658.3 821.5,658.1 822.0,658.0 822.5,658.1 823.0,658.7 823.5,658.7 824.0,658.3 824.5,656.4 825.0,651.8 825.5,650.9 826.0,655.5 826.5,658.0 827.0,657.9 827.5,657.8 828.0,657.6 828.5,657.4 829.0,657.2 829.5,657.1 830.0,657.0 830.5,656.6 831.0,653.0 831.5,650.9 832.0,654.5 832.5,656.9 833.0,656.7 833.5,656.9 834.0,657.3 834.5,657.4 835.0,657.2 835.5,657.0 836.0,656.9 836.5,656.7 837.0,656.9 837.5,656.4 838.0,656.2 838.5,654.4 839.0,651.7 839.5,653.9 840.0,656.3 840.5,656.3 841.0,656.0 841.5,655.6 842.0,655.5 842.5,655.7 843.0,655.8 843.5,655.7 844.0,655.6 844.5,655.6 845.0,655.2 845.5,654.8 846.0,654.3 846.5,654.3 847.0,654.5 847.5,654.4 848.0,654.3 848.5,654.0 849.0,653.6 849.5,653.5 850.0,651.0 850.5,647.6 851.0,649.7 851.5,652.8 852.0,652.7 852.5,652.3 853.0,652.3 853.5,652.4 854.0,652.6 854.5,652.8 855.0,652.2 855.5,651.4 856.0,650.9 856.5,650.5 857.0,650.3 857.5,650.3 858.0,648.4 858.5,646.4 859.0,647.9 859.5,650.0 860.0,650.1 860.5,650.3 861.0,650.8 861.5,651.1 862.0,651.1 862.5,651.1 863.0,650.9 863.5,650.7 864.0,651.0 864.5,651.0 865.0,650.5 865.5,650.7 866.0,651.1 866.5,650.8 867.0,650.8 867.5,650.7 868.0,650.4 868.5,650.1 869.0,649.9 869.5,649.9 870.0,650.1 870.5,650.2 871.0,650.3 871.5,649.9 872.0,649.2 872.5,648.8 873.0,649.5 873.5,649.9 874.0,649.5 874.5,649.4 875.0,649.5 875.5,649.0 876.0,648.6 876.5,649.5 877.0,649.7 877.5,648.8 878.0,648.8 878.5,648.9 879.0,648.8 879.5,648.6 880.0,648.0 880.5,648.2 881.0,648.6 881.5,648.2 882.0,647.8 882.5,647.8 883.0,648.1 883.5,648.2 884.0,647.9 884.5,647.5 885.0,647.2 885.5,647.3 886.0,647.0 886.5,646.4 887.0,646.6 887.5,646.7 888.0,647.1 888.5,647.4 889.0,646.8 889.5,646.6 890.0,647.2 890.5,647.1 891.0,646.8 891.5,646.1 892.0,645.2 892.5,645.2 893.0,645.5 893.5,645.1 894.0,644.3 894.5,643.8 895.0,643.4 895.5,644.4 896.0,645.5 896.5,645.6 897.0,645.5 897.5,646.5 898.0,647.8 898.5,647.4 899.0,646.6 899.5,646.0 900.0,645.5 900.5,644.7 901.0,644.7 901.5,645.1 902.0,644.8 902.5,644.7 903.0,644.8 903.5,644.4 904.0,644.0 904.5,644.1 905.0,643.4 905.5,642.3 906.0,641.8 906.5,640.8 907.0,639.7 907.5,639.1 908.0,638.3 908.5,637.1 909.0,636.7 909.5,636.3 910.0,635.2 910.5,634.4 911.0,634.1 911.5,633.8 912.0,632.8 912.5,632.0 913.0,631.5 913.5,632.2 914.0,633.3 914.5,634.6 915.0,634.9 915.5,635.6 916.0,636.7 916.5,637.3 917.0,637.9 917.5,639.2 918.0,639.7 918.5,639.6 919.0,640.3 919.5,641.2 920.0,641.5 920.5,594.2 921.0,535.1 921.5,476.0 922.0,416.5 922.3,452.6 922.5,476.6 923.0,536.1 923.5,596.3 924.0,644.4 924.5,644.3 925.0,644.0 925.5,644.0 926.0,644.1 926.5,644.5 927.0,644.7 927.5,644.4 928.0,644.6 928.5,645.0 929.0,644.8 929.5,644.6 930.0,644.3 930.5,644.3 931.0,645.1 931.5,645.8 932.0,645.3 932.5,644.8 933.0,644.8 933.5,645.2 934.0,645.6 934.5,646.1 935.0,646.5 935.5,646.4 936.0,646.4 936.5,646.3 937.0,645.7 937.5,645.3 938.0,645.6 938.5,645.9 939.0,645.5 939.5,645.4 940.0,646.0 940.5,646.3 941.0,646.2 941.5,646.4 942.0,646.6 942.5,646.6 943.0,646.1 943.5,646.2 944.0,647.0 944.5,647.2 945.0,647.1 945.5,647.0 946.0,647.1 946.5,647.7 947.0,648.1 947.5,648.0 948.0,648.6 948.5,648.6 949.0,648.4 949.5,648.3 950.0,647.7 950.5,647.3 951.0,647.6 951.5,648.2 952.0,648.5 952.5,648.6 953.0,648.5 953.5,648.4 954.0,648.7 954.5,648.7 955.0,635.9 955.5,623.0 955.6,620.1 956.0,630.5 956.5,644.0 957.0,649.7 957.5,650.3 958.0,650.2 958.5,649.7 959.0,649.6 959.5,650.1 960.0,650.2 960.5,650.1 961.0,650.5 961.5,650.4 962.0,650.1 962.5,650.5 963.0,650.8 963.5,650.7 964.0,650.6 964.5,650.5 965.0,650.8 965.5,650.7 966.0,650.5 966.5,650.6 967.0,650.3 967.5,649.8 968.0,649.5 968.5,649.8 969.0,649.9 969.5,649.6 970.0,649.9 970.5,650.0 971.0,649.3 971.5,648.6 972.0,649.2 972.5,649.7 973.0,649.4 973.5,648.9 974.0,648.6 974.5,649.0 975.0,649.4 975.5,649.2 976.0,648.8 976.5,649.1 977.0,649.4 977.5,649.2 978.0,648.7 978.5,649.0 979.0,649.6 979.5,648.9 980.0,648.4 980.5,648.4 981.0,648.6 981.5,649.4 982.0,649.4 982.5,648.4 983.0,648.0 983.5,649.0 984.0,649.4 984.5,649.4 985.0,649.0 985.5,648.4 986.0,647.9 986.5,647.5 987.0,647.7 987.5,648.3 988.0,648.7 988.5,649.0 989.0,648.5 989.5,647.9 990.0,648.5 990.5,648.8 991.0,648.2 991.5,647.5 992.0,648.1 992.5,648.4 993.0,647.7 993.5,647.6 994.0,648.1 994.5,647.8 995.0,647.0 995.5,646.9 996.0,647.1 996.5,647.5 997.0,647.8 997.5,648.1 998.0,647.6 998.5,647.0 999.0,647.3 999.5,647.7 1000.0,647.7 1000.5,647.6 1001.0,646.9 1001.5,646.7 1002.0,646.9 1002.5,646.3 1003.0,646.0 1003.5,646.7 1004.0,646.7 1004.5,646.3 1005.0,645.9 1005.5,645.6 1006.0,645.8 1006.5,646.2 1007.0,646.0 1007.5,645.7 1008.0,646.0 1008.5,645.8 1009.0,645.9 1009.5,646.4 1010.0,646.1 1010.5,645.9 1011.0,646.3 1011.5,646.1 1012.0,646.0 1012.5,646.4 1013.0,646.5 1013.5,646.3 1014.0,646.2 1014.5,646.1 1015.0,646.0 1015.5,645.6 1016.0,645.9 1016.5,646.5 1017.0,646.3 1017.5,646.2 1018.0,646.6 1018.5,646.0 1019.0,645.4 1019.5,645.6" fill="none" stroke="#f00" stroke-width="1.8" stroke-linejoin="round"/><polyline points="117.0,661.6 117.5,661.6 118.0,661.5 118.5,661.3 119.0,661.2 119.5,661.3 120.0,661.7 120.5,661.9 121.0,661.6 121.5,661.4 122.0,661.7 122.5,661.8 123.0,661.5 123.5,661.4 124.0,661.5 124.5,661.6 125.0,661.3 125.5,661.1 126.0,660.9 126.5,660.8 127.0,660.9 127.5,661.1 128.0,661.3 128.5,661.5 129.0,661.6 129.5,661.2 130.0,660.8 130.5,661.1 131.0,661.5 131.5,661.4 132.0,661.1 132.5,661.1 133.0,661.2 133.5,661.4 134.0,661.6 134.5,661.5 135.0,661.6 135.5,661.7 136.0,661.5 136.5,661.5 137.0,661.6 137.5,661.4 138.0,661.3 138.5,661.6 139.0,661.7 139.5,661.4 140.0,661.6 140.5,661.6 141.0,661.6 141.5,662.1 142.0,661.8 142.5,661.3 143.0,661.5 143.5,661.7 144.0,661.6 144.5,661.7 145.0,661.7 145.5,661.9 146.0,661.9 146.5,661.6 147.0,661.4 147.5,661.5 148.0,661.3 148.5,661.2 149.0,661.2 149.5,661.5 150.0,661.9 150.5,661.8 151.0,661.2 151.5,661.2 152.0,661.3 152.5,661.0 153.0,661.1 153.5,661.0 154.0,659.8 154.5,658.1 154.8,656.9 155.0,657.3 155.5,659.1 156.0,660.9 156.5,661.6 157.0,661.4 157.5,661.5 158.0,661.5 158.5,661.3 159.0,661.2 159.5,661.3 160.0,661.5 160.5,661.8 161.0,661.8 161.5,661.7 162.0,661.6 162.5,661.6 163.0,661.7 163.5,661.7 164.0,661.2 164.5,659.4 165.0,657.8 165.4,656.1 165.5,656.3 166.0,658.2 166.5,660.0 167.0,661.7 167.5,662.0 168.0,661.5 168.5,661.2 169.0,661.5 169.5,661.6 170.0,661.5 170.5,661.5 171.0,661.7 171.5,661.6 172.0,661.3 172.5,661.3 173.0,661.3 173.5,661.2 174.0,661.3 174.5,661.4 175.0,661.6 175.5,661.6 176.0,661.4 176.5,661.3 177.0,661.1 177.5,660.8 178.0,660.9 178.5,661.1 179.0,661.1 179.5,661.2 180.0,661.2 180.5,661.3 181.0,661.4 181.5,661.6 182.0,661.4 182.5,661.2 183.0,661.8 183.5,662.0 184.0,661.6 184.5,661.3 185.0,661.2 185.5,661.3 186.0,661.5 186.5,661.4 187.0,661.2 187.5,661.1 188.0,661.0 188.5,661.2 189.0,661.6 189.5,661.7 190.0,661.7 190.5,661.5 191.0,661.2 191.5,661.2 192.0,661.2 192.5,661.3 193.0,661.3 193.5,661.1 194.0,660.9 194.5,661.2 195.0,661.7 195.5,661.3 196.0,661.1 196.5,661.5 197.0,661.6 197.5,661.2 198.0,661.1 198.5,661.0 199.0,661.0 199.5,661.4 200.0,661.5 200.5,661.3 201.0,661.3 201.5,661.3 202.0,661.3 202.5,661.1 203.0,660.9 203.5,661.1 204.0,661.5 204.4,661.5 204.5,661.4 205.0,661.3 205.5,661.2 206.0,661.3 206.5,661.4 207.0,661.3 207.5,661.3 208.0,661.5 208.5,661.8 209.0,661.7 209.5,661.5 210.0,661.1 210.5,661.0 211.0,661.5 211.5,661.7 212.0,661.5 212.5,661.6 213.0,661.7 213.5,661.8 214.0,661.6 214.5,661.5 215.0,661.5 215.5,661.3 216.0,661.4 216.5,661.7 217.0,661.8 217.5,662.1 218.0,661.8 218.5,661.0 219.0,660.8 219.5,661.1 220.0,661.1 220.5,661.2 221.0,661.3 221.5,660.7 222.0,660.5 222.5,661.1 223.0,661.3 223.5,661.2 224.0,661.1 224.5,660.8 225.0,660.7 225.5,660.9 226.0,660.7 226.5,660.7 227.0,661.1 227.5,661.3 228.0,661.2 228.5,660.9 229.0,660.8 229.5,660.7 230.0,660.9 230.5,661.0 231.0,661.1 231.5,661.2 232.0,661.6 232.5,661.6 233.0,661.2 233.5,661.2 234.0,661.3 234.5,661.0 235.0,660.7 235.5,661.0 236.0,661.3 236.5,661.3 237.0,661.1 237.5,661.3 238.0,661.4 238.5,661.0 239.0,660.5 239.5,660.4 240.0,660.1 240.5,659.9 241.0,660.7 241.5,661.4 242.0,661.2 242.5,660.7 243.0,660.9 243.5,661.3 244.0,661.3 244.5,661.2 245.0,661.1 245.5,661.2 246.0,661.4 246.5,661.4 247.0,661.1 247.5,660.9 248.0,661.0 248.5,661.1 249.0,661.1 249.5,660.9 250.0,660.9 250.5,660.9 251.0,661.0 251.5,661.6 252.0,661.6 252.5,661.3 253.0,661.3 253.5,660.9 254.0,660.4 254.5,660.8 255.0,661.1 255.5,660.9 256.0,660.7 256.5,660.8 257.0,661.1 257.5,661.4 258.0,661.3 258.5,661.3 259.0,661.4 259.5,661.0 260.0,660.6 260.5,660.7 261.0,661.3 261.5,661.6 262.0,661.5 262.5,661.3 263.0,661.2 263.5,661.0 264.0,660.9 264.5,660.9 265.0,661.2 265.5,661.5 266.0,661.3 266.5,661.0 267.0,660.7 267.5,661.0 268.0,661.4 268.5,661.3 269.0,661.0 269.5,660.7 270.0,660.6 270.5,660.9 271.0,661.1 271.5,660.9 272.0,660.8 272.5,660.4 273.0,659.0 273.5,657.5 273.8,656.8 274.0,657.6 274.5,659.0 275.0,660.2 275.5,661.2 276.0,661.4 276.5,661.0 277.0,660.7 277.5,660.9 278.0,660.8 278.5,660.7 279.0,661.2 279.5,661.5 280.0,661.1 280.5,660.7 281.0,660.6 281.5,660.7 282.0,660.4 282.5,660.6 283.0,661.0 283.5,661.0 284.0,661.3 284.5,661.5 285.0,661.2 285.5,661.3 286.0,661.5 286.5,661.0 287.0,660.5 287.5,660.4 288.0,660.9 288.5,661.4 289.0,661.2 289.5,660.6 290.0,660.4 290.5,660.6 291.0,660.8 291.5,660.9 292.0,660.9 292.5,660.9 293.0,660.8 293.5,660.8 294.0,660.9 294.5,660.9 295.0,661.2 295.5,661.5 296.0,661.2 296.5,660.7 297.0,660.4 297.5,660.4 298.0,660.1 298.5,660.3 299.0,660.9 299.5,661.1 300.0,660.6 300.5,660.2 301.0,660.3 301.5,660.6 302.0,661.2 302.5,661.5 303.0,661.0 303.5,660.4 304.0,660.3 304.5,660.6 305.0,660.5 305.5,660.4 306.0,660.5 306.5,660.6 307.0,661.0 307.5,661.3 308.0,661.1 308.5,660.8 309.0,660.8 309.5,660.7 310.0,660.5 310.5,660.4 311.0,660.1 311.5,660.2 312.0,660.7 312.5,660.8 313.0,660.9 313.5,660.8 314.0,660.2 314.5,660.3 315.0,660.7 315.5,660.8 316.0,660.8 316.5,660.9 317.0,660.7 317.5,660.2 318.0,660.4 318.5,660.8 319.0,660.6 319.5,660.4 320.0,660.9 320.5,661.2 321.0,661.1 321.5,660.7 322.0,660.4 322.5,660.6 323.0,661.2 323.5,661.2 324.0,661.0 324.5,660.7 325.0,660.3 325.5,660.1 326.0,660.4 326.5,660.7 327.0,660.6 327.5,660.8 328.0,660.7 328.5,660.3 329.0,660.3 329.5,660.4 330.0,660.4 330.5,660.3 331.0,660.2 331.5,660.2 332.0,660.1 332.5,660.0 333.0,660.5 333.5,660.6 334.0,660.2 334.5,660.2 335.0,660.2 335.5,660.3 336.0,660.5 336.5,660.7 337.0,660.7 337.5,660.5 338.0,660.4 338.5,660.3 339.0,660.3 339.5,660.5 340.0,660.6 340.5,660.6 341.0,660.3 341.5,660.1 342.0,660.2 342.5,660.5 343.0,660.5 343.5,660.3 344.0,660.0 344.5,660.0 345.0,660.2 345.5,659.9 346.0,659.7 346.5,660.2 347.0,660.4 347.5,659.9 348.0,659.7 348.5,659.8 349.0,659.9 349.5,660.1 350.0,660.0 350.5,660.0 351.0,660.2 351.5,660.2 352.0,660.1 352.5,659.9 353.0,659.5 353.5,659.8 354.0,660.4 354.5,660.4 355.0,660.2 355.5,660.2 356.0,660.2 356.5,660.5 357.0,660.6 357.5,659.9 358.0,659.4 358.5,659.4 359.0,659.7 359.5,660.3 360.0,660.3 360.5,659.8 361.0,659.5 361.5,660.0 362.0,660.0 362.5,659.6 363.0,659.7 363.5,660.0 364.0,660.1 364.5,659.9 365.0,659.6 365.5,659.4 366.0,659.7 366.5,660.4 367.0,660.4 367.5,659.9 368.0,659.4 368.5,659.3 369.0,659.6 369.5,659.9 370.0,659.9 370.5,659.8 371.0,659.6 371.5,659.8 372.0,660.1 372.5,660.6 373.0,660.6 373.5,660.0 374.0,659.7 374.5,659.7 375.0,659.6 375.5,659.6 376.0,659.6 376.5,659.6 377.0,659.9 377.5,659.9 378.0,659.9 378.5,659.7 379.0,659.5 379.5,659.4 380.0,659.5 380.5,659.6 381.0,659.8 381.5,659.6 382.0,659.4 382.5,659.4 383.0,659.3 383.5,659.3 384.0,659.3 384.5,659.1 385.0,659.5 385.5,659.8 386.0,659.6 386.5,659.5 387.0,659.4 387.5,659.3 388.0,659.4 388.5,659.5 389.0,659.4 389.5,659.4 390.0,659.6 390.5,659.7 391.0,659.6 391.5,659.6 392.0,659.5 392.5,659.3 393.0,659.5 393.5,659.8 394.0,659.8 394.5,659.6 395.0,659.4 395.5,659.5 396.0,659.8 396.5,659.8 397.0,659.4 397.5,659.2 398.0,659.6 398.5,660.1 399.0,660.0 399.5,659.5 400.0,659.2 400.5,659.5 401.0,659.2 401.5,658.7 402.0,659.0 402.5,658.9 403.0,658.7 403.5,659.2 404.0,659.6 404.5,659.5 405.0,659.6 405.5,660.1 406.0,660.0 406.5,659.5 407.0,659.0 407.5,658.8 408.0,658.9 408.5,659.3 409.0,659.4 409.5,659.5 410.0,659.4 410.5,659.1 411.0,659.2 411.5,659.5 412.0,659.6 412.5,659.6 413.0,659.4 413.5,659.1 414.0,659.0 414.5,658.6 415.0,658.5 415.5,659.0 416.0,659.2 416.5,658.9 417.0,658.5 417.5,658.6 418.0,658.6 418.5,658.3 419.0,658.1 419.5,658.7 420.0,659.2 420.5,659.1 421.0,658.8 421.5,658.9 422.0,658.7 422.5,658.1 423.0,658.5 423.5,659.1 424.0,659.4 424.5,656.7 425.0,653.6 425.5,650.3 425.8,648.5 426.0,649.6 426.5,652.2 427.0,655.2 427.5,658.6 428.0,659.3 428.5,658.8 429.0,658.5 429.5,658.7 430.0,658.8 430.5,658.8 431.0,658.6 431.5,658.2 432.0,658.0 432.5,658.2 433.0,658.5 433.5,658.3 434.0,657.6 434.5,657.6 435.0,657.9 435.5,657.6 436.0,657.5 436.5,658.0 437.0,658.2 437.5,658.0 438.0,657.8 438.5,657.9 439.0,657.9 439.5,657.8 440.0,657.4 440.5,657.2 441.0,657.3 441.5,657.4 442.0,657.6 442.5,657.4 443.0,657.1 443.5,657.2 444.0,657.3 444.2,657.4 444.5,657.1 445.0,657.2 445.5,657.8 446.0,658.3 446.5,658.0 447.0,657.4 447.5,657.3 448.0,657.4 448.5,657.0 449.0,656.6 449.5,656.8 450.0,656.8 450.5,656.4 451.0,655.9 451.5,656.2 452.0,656.6 452.5,656.6 453.0,656.6 453.5,656.8 454.0,656.8 454.5,656.7 455.0,656.6 455.5,656.4 456.0,656.2 456.5,656.4 457.0,656.8 457.5,656.6 458.0,656.3 458.5,656.3 459.0,656.5 459.5,656.4 460.0,655.9 460.5,655.9 461.0,656.6 461.5,657.3 462.0,657.1 462.5,656.6 463.0,656.9 463.5,657.1 464.0,656.5 464.5,656.4 465.0,656.7 465.5,656.7 466.0,656.5 466.5,656.5 467.0,657.0 467.5,657.1 468.0,656.8 468.5,656.2 469.0,655.8 469.5,656.0 470.0,656.3 470.5,656.4 471.0,656.4 471.2,655.9 471.5,655.6 472.0,655.8 472.5,655.9 473.0,655.8 473.5,655.8 474.0,655.5 474.5,655.4 475.0,656.1 475.5,656.4 476.0,656.6 476.5,656.7 477.0,656.0 477.5,655.2 478.0,655.2 478.5,655.3 479.0,655.5 479.5,655.5 480.0,655.3 480.5,655.4 481.0,655.4 481.5,655.6 482.0,655.7 482.5,655.6 483.0,655.6 483.5,655.5 484.0,655.2 484.5,655.1 485.0,655.7 485.5,656.5 486.0,656.7 486.5,656.5 487.0,655.9 487.5,655.7 488.0,655.9 488.5,655.8 489.0,655.5 489.5,655.4 490.0,655.4 490.5,655.4 491.0,655.2 491.5,655.1 492.0,655.5 492.5,656.1 493.0,655.7 493.5,655.4 494.0,655.6 494.5,655.5 495.0,655.1 495.5,655.2 496.0,655.6 496.5,655.6 497.0,655.6 497.5,655.7 498.0,655.3 498.5,655.1 499.0,655.3 499.5,655.3 500.0,654.7 500.5,654.6 501.0,655.0 501.5,655.4 502.0,655.7 502.5,655.4 503.0,655.0 503.5,655.1 504.0,655.1 504.5,655.0 505.0,655.1 505.5,654.6 506.0,654.3 506.5,654.4 507.0,654.5 507.5,654.7 508.0,655.2 508.5,655.5 509.0,655.6 509.5,655.0 510.0,654.4 510.5,654.4 511.0,654.5 511.5,654.6 512.0,654.9 512.5,654.6 513.0,654.4 513.5,654.9 514.0,655.1 514.5,655.1 515.0,655.2 515.5,656.1 515.7,656.5 516.0,657.2 516.5,658.0 517.0,658.8 517.5,658.0 518.0,657.1 518.5,656.7 519.0,656.4 519.4,655.9 519.5,655.9 520.0,655.8 520.5,655.6 521.0,654.8 521.5,654.6 522.0,655.0 522.5,655.1 523.0,655.0 523.5,655.0 524.0,655.1 524.5,655.1 525.0,654.9 525.5,655.1 526.0,655.7 526.5,655.7 527.0,654.9 527.5,654.4 528.0,654.6 528.5,654.7 529.0,654.4 529.5,654.4 530.0,654.4 530.5,654.1 531.0,654.0 531.5,653.9 532.0,653.5 532.5,653.6 533.0,654.1 533.5,654.3 534.0,654.0 534.5,653.6 535.0,653.9 535.5,654.4 536.0,654.4 536.5,654.0 537.0,653.9 537.5,654.0 538.0,653.7 538.5,653.3 539.0,653.7 539.5,654.2 540.0,654.3 540.5,654.1 541.0,654.0 541.5,653.9 542.0,653.7 542.5,654.0 543.0,654.6 543.5,654.3 544.0,653.7 544.5,653.7 544.8,654.0 545.0,654.1 545.5,653.5 546.0,653.0 546.5,653.3 547.0,653.6 547.5,653.9 548.0,654.1 548.5,654.1 549.0,653.8 549.5,653.5 550.0,654.0 550.5,654.5 551.0,654.2 551.5,653.8 552.0,653.9 552.5,654.0 553.0,653.5 553.5,653.4 554.0,653.8 554.5,653.8 555.0,653.5 555.5,662.2 556.0,662.2 556.5,662.2 557.0,662.0 557.5,661.8 558.0,662.2 558.5,662.3 559.0,662.0 559.5,662.1 560.0,662.2 560.5,662.0 561.0,661.9 561.5,662.1 562.0,662.8 562.5,663.4 563.0,663.2 563.5,662.6 564.0,662.4 564.5,662.4 565.0,653.8 565.5,653.8 566.0,653.4 566.5,653.5 567.0,653.8 567.5,653.8 568.0,653.5 568.5,653.1 569.0,653.4 569.5,653.5 570.0,653.4 570.5,653.3 571.0,652.7 571.5,652.5 572.0,653.2 572.5,653.5 573.0,653.2 573.5,653.2 574.0,653.3 574.5,652.9 574.6,652.6 575.0,652.9 575.5,653.0 576.0,652.8 576.5,652.9 577.0,652.6 577.5,652.5 578.0,653.0 578.5,652.7 579.0,652.2 579.5,652.5 580.0,653.1 580.5,653.1 581.0,652.7 581.5,652.7 582.0,652.7 582.5,652.5 583.0,652.5 583.5,652.4 584.0,652.2 584.5,652.2 585.0,652.3 585.5,652.3 586.0,652.1 586.5,652.2 587.0,652.6 587.5,652.6 588.0,652.7 588.5,652.8 589.0,652.9 589.5,652.8 590.0,652.3 590.5,652.1 591.0,652.3 591.5,652.8 592.0,652.4 592.5,651.3 593.0,651.3 593.5,651.9 594.0,652.2 594.5,652.0 595.0,651.7 595.5,651.7 596.0,651.7 596.5,651.6 597.0,653.5 597.5,655.1 598.0,655.2 598.5,655.4 599.0,655.5 599.5,655.2 600.0,655.0 600.5,655.0 601.0,654.7 601.5,654.3 602.0,654.3 602.5,654.7 603.0,655.1 603.5,655.1 604.0,655.0 604.5,654.9 605.0,654.7 605.5,654.5 606.0,654.7 606.5,654.7 607.0,654.3 607.5,654.0 608.0,654.0 608.5,653.9 609.0,653.8 609.5,654.0 610.0,653.9 610.5,653.8 611.0,653.8 611.5,654.1 612.0,654.3 612.5,654.5 613.0,655.0 613.5,655.2 614.0,655.3 614.5,655.3 615.0,654.9 615.5,655.1 616.0,655.6 616.5,655.9 617.0,656.0 617.5,655.9 618.0,655.9 618.5,656.1 619.0,656.4 619.5,657.0 620.0,657.3 620.5,657.4 621.0,657.8 621.5,657.9 622.0,657.6 622.5,657.5 623.0,657.6 623.5,657.8 624.0,658.6 624.5,659.3 625.0,659.3 625.5,658.9 626.0,658.7 626.5,658.6 627.0,658.6 627.5,658.5 628.0,658.8 628.5,658.9 629.0,658.4 629.5,657.7 630.0,657.5 630.5,657.5 631.0,657.5 631.5,657.4 632.0,657.4 632.5,657.1 633.0,656.3 633.5,656.3 634.0,656.7 634.5,656.2 635.0,655.8 635.5,655.6 636.0,655.5 636.5,656.0 637.0,656.7 637.5,656.2 638.0,655.1 638.5,654.7 639.0,655.0 639.5,655.2 640.0,654.7 640.5,654.7 641.0,655.2 641.5,655.3 642.0,654.8 642.5,654.2 643.0,654.1 643.5,654.1 644.0,654.2 644.5,654.7 645.0,654.9 645.5,655.3 646.0,655.9 646.5,655.5 647.0,654.9 647.5,655.3 648.0,655.4 648.5,654.8 649.0,654.5 649.5,654.5 650.0,654.7 650.5,654.8 651.0,654.2 651.5,654.1 652.0,654.6 652.5,654.8 653.0,654.9 653.5,654.9 654.0,655.0 654.5,654.8 655.0,654.3 655.5,654.3 656.0,654.5 656.5,654.7 657.0,654.7 657.5,654.3 658.0,654.4 658.5,654.9 659.0,654.8 659.5,654.8 660.0,655.6 660.5,655.5 661.0,654.5 661.5,654.8 662.0,655.6 662.5,655.2 663.0,654.7 663.5,654.3 664.0,654.2 664.5,654.2 665.0,654.3 665.5,654.5 666.0,654.3 666.5,653.9 667.0,653.8 667.5,653.9 668.0,653.9 668.5,654.2 669.0,654.6 669.5,654.6 670.0,654.5 670.5,654.4 671.0,654.2 671.5,654.1 672.0,654.1 672.5,654.1 673.0,654.1 673.5,654.3 674.0,654.2 674.5,653.7 675.0,653.6 675.5,653.7 676.0,653.8 676.5,653.9 677.0,654.0 677.5,653.4 678.0,652.8 678.5,652.8 679.0,652.9 679.5,653.6 680.0,654.2 680.5,653.8 681.0,653.2 681.5,653.4 682.0,654.1 682.5,654.0 683.0,653.8 683.5,654.3 684.0,654.7 684.5,654.3 685.0,653.7 685.5,653.6 686.0,653.5 686.5,653.0 687.0,652.8 687.5,652.9 688.0,652.9 688.5,653.0 689.0,653.6 689.5,653.8 690.0,653.2 690.5,652.8 691.0,653.0 691.5,653.3 692.0,653.3 692.5,652.8 693.0,652.3 693.5,652.0 694.0,652.3 694.5,652.9 695.0,652.7 695.5,652.4 696.0,652.4 696.5,652.7 697.0,652.8 697.5,652.5 698.0,652.1 698.5,651.7 699.0,652.1 699.5,652.5 700.0,651.9 700.5,652.1 701.0,652.6 701.5,652.4 702.0,652.4 702.5,652.6 703.0,652.8 703.5,652.5 704.0,652.2 704.5,652.4 705.0,652.6 705.5,652.8 706.0,653.2 706.5,653.6 707.0,653.6 707.5,653.5 708.0,653.8 708.5,654.2 709.0,654.3 709.5,654.2 710.0,653.7 710.5,653.7 711.0,653.7 711.5,653.4 712.0,653.5 712.5,653.8 713.0,653.7 713.5,653.6 714.0,654.0 714.5,654.8 715.0,655.5 715.5,655.8 716.0,655.6 716.5,655.4 717.0,655.6 717.5,656.0 718.0,656.4 718.5,657.0 719.0,657.5 719.5,657.0 720.0,656.4 720.5,656.5 721.0,656.6 721.1,657.1 721.5,658.1 722.0,658.0 722.5,657.8 723.0,658.6 723.5,659.1 724.0,658.8 724.5,658.6 725.0,659.0 725.5,659.6 725.8,660.1 726.0,660.4 726.5,660.6 727.0,660.5 727.5,660.3 728.0,659.6 728.5,658.8 729.0,658.8 729.5,659.0 730.0,658.9 730.5,658.9 731.0,658.4 731.5,658.2 732.0,658.7 732.5,658.6 733.0,658.3 733.5,658.4 734.0,658.3 734.5,657.4 735.0,656.4 735.5,656.5 736.0,656.6 736.5,656.6 737.0,656.9 737.5,657.1 738.0,656.4 738.5,656.3 739.0,656.7 739.5,656.1 740.0,655.5 740.5,655.9 741.0,656.0 741.5,655.9 742.0,656.0 742.5,655.7 743.0,655.5 743.5,655.9 744.0,656.0 744.5,655.7 745.0,655.7 745.5,656.3 746.0,656.6 746.5,656.2 747.0,656.0 747.5,655.8 748.0,655.7 748.5,656.0 749.0,656.3 749.5,656.2 750.0,655.7 750.5,655.2 751.0,655.2 751.5,655.6 752.0,656.0 752.5,656.1 753.0,656.0 753.5,656.1 754.0,656.1 754.5,655.3 755.0,654.5 755.5,654.2 756.0,654.7 756.5,655.3 757.0,655.4 757.5,655.5 758.0,655.9 758.5,656.0 759.0,655.7 759.5,655.1 760.0,654.9 760.5,655.0 761.0,654.9 761.5,654.7 762.0,655.0 762.5,655.1 763.0,654.5 763.5,654.3 764.0,654.4 764.5,654.7 765.0,654.9 765.5,654.8 766.0,654.5 766.5,654.2 767.0,654.4 767.5,654.5 768.0,654.5 768.5,654.0 769.0,653.2 769.5,653.5 770.0,654.4 770.5,654.8 771.0,654.5 771.5,653.9 772.0,653.8 772.5,654.6 773.0,654.9 773.5,654.2 774.0,653.5 774.5,653.3 775.0,654.3 775.5,655.1 776.0,654.7 776.5,654.4 777.0,653.9 777.5,653.6 778.0,653.6 778.5,653.3 779.0,653.3 779.5,653.7 780.0,653.9 780.5,653.9 781.0,653.5 781.5,653.0 782.0,652.8 782.5,653.0 783.0,652.9 783.5,652.5 784.0,652.5 784.5,652.5 785.0,652.2 785.5,652.1 786.0,652.4 786.5,653.1 787.0,653.8 787.5,653.9 788.0,653.1 788.5,653.2 789.0,653.8 789.5,653.8 790.0,654.0 790.5,654.5 791.0,654.0 791.5,653.4 792.0,653.6 792.5,654.3 793.0,654.4 793.5,654.0 794.0,654.3 794.5,655.1 795.0,655.3 795.5,655.2 796.0,655.6 796.5,655.5 797.0,655.0 797.5,655.4 798.0,655.9 798.5,655.5 799.0,655.3 799.5,656.0 800.0,657.1 800.5,657.0 801.0,656.8 801.5,657.3 802.0,657.4 802.5,657.7 803.0,658.3 803.5,658.2 804.0,657.7 804.5,657.6 805.0,657.9 805.5,657.4 806.0,657.5 806.5,658.8 807.0,659.3 807.5,658.8 808.0,658.4 808.5,658.9 809.0,659.4 809.5,659.1 810.0,658.3 810.5,657.7 811.0,657.5 811.5,657.1 812.0,657.2 812.5,657.9 813.0,658.0 813.5,658.1 814.0,658.7 814.5,659.4 815.0,659.3 815.5,659.0 816.0,658.8 816.5,658.4 817.0,658.5 817.5,658.6 818.0,658.2 818.5,658.0 819.0,658.1 819.5,658.8 820.0,659.2 820.5,658.7 821.0,658.4 821.5,658.0 822.0,657.6 822.5,658.0 823.0,659.2 823.5,659.6 824.0,658.8 824.5,658.2 825.0,658.2 825.5,658.3 826.0,658.4 826.5,658.3 827.0,658.3 827.5,658.1 828.0,657.7 828.5,657.2 829.0,656.9 829.5,656.9 830.0,657.0 830.5,657.1 831.0,657.2 831.5,657.4 832.0,657.4 832.5,656.8 833.0,656.5 833.5,656.9 834.0,657.7 834.5,658.2 835.0,657.7 835.5,657.4 836.0,657.2 836.5,657.0 837.0,657.1 837.5,656.3 838.0,656.1 838.5,657.6 839.0,657.7 839.5,656.6 840.0,656.4 840.5,656.4 841.0,656.0 841.5,655.5 842.0,655.6 842.5,656.0 843.0,656.2 843.5,656.2 844.0,656.3 844.5,656.3 845.0,655.5 845.5,654.7 846.0,653.9 846.5,654.2 847.0,654.8 847.5,654.6 848.0,654.5 848.5,654.2 849.0,653.6 849.5,653.5 850.0,653.5 850.5,653.5 851.0,653.9 851.5,653.6 852.0,652.7 852.5,652.3 853.0,652.5 853.5,652.7 854.0,653.3 854.5,653.8 855.0,652.8 855.5,651.7 856.0,651.0 856.5,650.4 857.0,650.0 857.5,649.9 858.0,649.9 858.5,650.4 859.0,650.7 859.5,650.4 860.0,650.0 860.5,650.2 861.0,651.2 861.5,651.7 862.0,651.8 862.5,651.8 863.0,651.5 863.5,651.0 864.0,651.6 864.5,651.9 865.0,650.9 865.5,651.3 866.0,651.9 866.5,651.5 867.0,651.4 867.5,651.3 868.0,650.6 868.5,650.3 869.0,649.9 869.5,649.6 870.0,649.9 870.5,650.2 871.0,650.5 871.5,650.1 872.0,650.0 872.5,651.1 873.0,651.5 873.5,650.5 874.0,649.6 874.5,649.6 875.0,649.9 875.5,649.2 876.0,648.5 876.5,650.0 877.0,650.6 877.5,649.0 878.0,649.0 878.5,649.3 879.0,649.1 879.5,649.0 880.0,648.1 880.5,648.5 881.0,649.3 881.5,648.4 882.0,647.8 882.5,647.8 883.0,648.3 883.5,648.5 884.0,648.1 884.5,647.6 885.0,647.4 885.5,647.6 886.0,646.8 886.5,645.6 887.0,646.1 887.5,646.4 888.0,647.1 888.5,647.8 889.0,646.5 889.5,646.4 890.0,647.7 890.5,647.9 891.0,647.7 891.5,646.5 892.0,645.1 892.5,645.4 893.0,646.3 893.5,645.8 894.0,644.7 894.5,643.9 895.0,643.3 895.5,644.5 896.0,646.3 896.5,646.0 897.0,645.2 897.5,646.5 898.0,648.4 898.5,648.1 899.0,646.9 899.5,646.1 900.0,645.4 900.5,644.1 901.0,644.2 901.5,645.2 902.0,645.0 902.5,645.2 903.0,645.7 903.5,645.0 904.0,644.7 904.5,645.3 905.0,644.2 905.5,642.5 906.0,642.2 906.5,641.1 907.0,639.7 907.5,639.1 908.0,637.9 908.5,636.4 909.0,636.4 909.5,636.3 910.0,634.9 910.5,633.7 911.0,633.7 911.5,633.9 912.0,633.0 912.5,632.0 913.0,631.6 913.5,632.0 914.0,633.4 914.5,635.1 915.0,634.9 915.5,635.7 916.0,637.3 916.5,637.6 917.0,638.1 917.5,639.7 918.0,640.0 918.5,639.0 919.0,639.6 919.5,640.6 920.0,640.8 920.5,641.1 921.0,635.5 921.5,625.5 922.0,614.9 922.3,609.1 922.5,613.6 923.0,624.0 923.5,635.7 924.0,645.5 924.5,644.8 925.0,643.9 925.5,643.7 926.0,643.8 926.5,644.7 927.0,645.1 927.5,644.2 928.0,644.7 928.5,645.4 929.0,645.0 929.5,644.5 930.0,643.9 930.5,643.8 931.0,645.3 931.5,646.6 932.0,645.6 932.5,644.5 933.0,644.7 933.5,645.4 934.0,646.1 934.5,646.9 935.0,647.5 935.5,647.3 936.0,647.2 936.5,647.0 937.0,646.0 937.5,645.1 938.0,645.4 938.5,646.0 939.0,645.2 939.5,644.9 940.0,646.1 940.5,646.4 941.0,646.0 941.5,646.3 942.0,646.7 942.5,646.7 943.0,645.8 943.5,646.0 944.0,647.2 944.5,647.4 945.0,647.0 945.5,646.6 946.0,646.8 946.5,647.9 947.0,648.4 947.5,648.2 948.0,649.3 948.5,649.3 949.0,648.6 949.5,648.3 950.0,647.0 950.5,646.2 951.0,646.9 951.5,647.9 952.0,648.3 952.5,648.6 953.0,648.2 953.5,647.8 954.0,648.4 954.5,648.3 955.0,648.4 955.5,648.7 955.6,648.1 956.0,647.9 956.5,648.6 957.0,649.9 957.5,650.9 958.0,650.6 958.5,649.5 959.0,649.1 959.5,649.7 960.0,649.9 960.5,649.7 961.0,650.6 961.5,650.4 962.0,649.8 962.5,650.9 963.0,651.5 963.5,651.5 964.0,651.4 964.5,651.3 965.0,651.8 965.5,651.7 966.0,651.2 966.5,651.3 967.0,650.9 967.5,649.8 968.0,649.2 968.5,649.7 969.0,649.9 969.5,649.4 970.0,650.0 970.5,650.5 971.0,649.3 971.5,648.0 972.0,649.0 972.5,649.8 973.0,649.3 973.5,648.4 974.0,647.9 974.5,648.8 975.0,649.5 975.5,649.1 976.0,648.5 976.5,649.0 977.0,649.7 977.5,649.4 978.0,648.5 978.5,649.2 979.0,650.3 979.5,649.0 980.0,648.0 980.5,648.1 981.0,648.5 981.5,650.1 982.0,650.4 982.5,648.3 983.0,647.6 983.5,649.4 984.0,650.4 984.5,650.2 985.0,649.5 985.5,648.3 986.0,647.5 986.5,646.7 987.0,647.2 987.5,648.4 988.0,649.1 988.5,649.9 989.0,649.0 989.5,648.1 990.0,649.3 990.5,650.1 991.0,648.7 991.5,647.4 992.0,648.4 992.5,649.0 993.0,647.8 993.5,647.5 994.0,648.4 994.5,647.9 995.0,646.8 995.5,646.7 996.0,647.0 996.5,647.6 997.0,648.2 997.5,648.8 998.0,647.9 998.5,646.6 999.0,647.5 999.5,648.4 1000.0,648.5 1000.5,648.1 1001.0,646.8 1001.5,646.6 1002.0,647.1 1002.5,645.8 1003.0,645.3 1003.5,646.7 1004.0,646.7 1004.5,645.8 1005.0,645.1 1005.5,644.8 1006.0,645.2 1006.5,646.1 1007.0,645.9 1007.5,645.3 1008.0,645.8 1008.5,645.5 1009.0,645.5 1009.5,646.6 1010.0,646.0 1010.5,645.9 1011.0,646.9 1011.5,646.5 1012.0,646.2 1012.5,647.0 1013.0,647.2 1013.5,646.7 1014.0,646.4 1014.5,646.3 1015.0,646.3 1015.5,645.6 1016.0,646.1 1016.5,647.4 1017.0,646.9 1017.5,646.9 1018.0,647.7 1018.5,646.5 1019.0,645.4 1019.5,645.9" fill="none" stroke="#000" stroke-width="2" stroke-linejoin="round"/></g><rect x="134" y="1.1" width="357.9" height="268.7" fill="none" stroke="#000" stroke-width="1.8" stroke-linejoin="miter"/><rect x="644.25" y="1.1" width="358.75" height="268.9" fill="none" stroke="#000" stroke-width="1.8" stroke-linejoin="miter"/><rect x="117" y="405" width="902.9" height="268.9" fill="none" stroke="#000" stroke-width="1.8" stroke-linejoin="miter"/><path d="M179.4 269.8V278.4M269 269.8V278.4M358.6 269.8V278.4M448.3 269.8V278.4M134 46.2H125.4M134 117.9H125.4M134 190H125.4M134 261.9H125.4M690.2 270V278.6M779.8 270V278.6M869.4 270V278.6M959 270V278.6M644.25 46.2H635.65M644.25 117.9H635.65M644.25 190H635.65M644.25 261.9H635.65M174.3 673.9V682.5M320.3 673.9V682.5M466.3 673.9V682.5M612.3 673.9V682.5M758.3 673.9V682.5M904.3 673.9V682.5M117 662.3H108.4M117 560.5H108.4M117 458.7H108.4" stroke="#000" stroke-width="1.8" fill="none"/><g font-family="Liberation Sans, sans-serif" stroke-width="0.4"><text transform="matrix(1.046 0 0 1 83.054 671.7)" font-size="27.5" fill="#000" stroke="#000" stroke-width="0.4">0</text><text transform="matrix(1.039 0 0 1 50.861 569.9)" font-size="27.5" fill="#000" stroke="#000" stroke-width="0.4">500</text><text transform="matrix(1.047 0 0 1 34.907 468.2)" font-size="27.5" fill="#000" stroke="#000" stroke-width="0.4">1000</text><text transform="matrix(1.053 0 0 1 141.847 711.7)" font-size="27.5" fill="#000" stroke="#000" stroke-width="0.4">4000</text><text transform="matrix(1.053 0 0 1 287.847 711.7)" font-size="27.5" fill="#000" stroke="#000" stroke-width="0.4">4500</text><text transform="matrix(1.053 0 0 1 433.847 711.7)" font-size="27.5" fill="#000" stroke="#000" stroke-width="0.4">5000</text><text transform="matrix(1.053 0 0 1 579.847 711.7)" font-size="27.5" fill="#000" stroke="#000" stroke-width="0.4">5500</text><text transform="matrix(1.053 0 0 1 725.847 711.7)" font-size="27.5" fill="#000" stroke="#000" stroke-width="0.4">6000</text><text transform="matrix(1.053 0 0 1 871.847 711.7)" font-size="27.5" fill="#000" stroke="#000" stroke-width="0.4">6500</text><text transform="matrix(1.031 0 0 1 500.6 746)" font-size="27.5" fill="#000" stroke="#000" stroke-width="0.4">Angstroms</text><text transform="translate(10.8,539.2) rotate(-90) scale(1.03,1) translate(-80.5,10)" font-size="27.5" fill="#000" stroke="#000" stroke-width="0.4">Relative Flux</text><text transform="matrix(1.044 0 0 1 611.312 460)" font-size="21.5" fill="#000" stroke="#000" stroke-width="0.15">Median Quiescence</text><text transform="matrix(1.046 0 0 1 611.308 489.7)" font-size="21.5" fill="#f00" stroke="#f00" stroke-width="0.15">Mar 18 Flare</text><text transform="matrix(0.993 0 0 1 136.507 602.5)" font-size="21.5" fill="#000" stroke="#000" stroke-width="0.15">Ca II</text><text transform="matrix(1.067 0 0 1 305.8 622.5)" font-size="21.5" fill="#000" stroke="#000" stroke-width="0.15">Ti I</text><text transform="matrix(1.039 0 0 1 430.121 601)" font-size="21.5" fill="#000" stroke="#000" stroke-width="0.15">Fe I</text><text transform="matrix(0.986 0 0 1 451.914 581.6)" font-size="21.5" fill="#000" stroke="#000" stroke-width="0.15">Ca II</text><text transform="matrix(1.03 0 0 1 494.939 561)" font-size="21.5" fill="#000" stroke="#000" stroke-width="0.15">Fe I</text><text transform="matrix(0.992 0 0 1 524.608 602.3)" font-size="21.5" fill="#000" stroke="#000" stroke-width="0.15">Ca I</text><text transform="matrix(1.012 0 0 1 567.876 612)" font-size="21.5" fill="#000" stroke="#000" stroke-width="0.15">Fe I</text><text transform="matrix(1.029 0 0 1 608.971 623)" font-size="21.5" fill="#000" stroke="#000" stroke-width="0.15">Si II</text><text transform="matrix(1.05 0 0 1 672.4 601.4)" font-size="21.5" fill="#000" stroke="#000" stroke-width="0.15">He I</text><text transform="matrix(0.965 0 0 1 734.269 612.2)" font-size="21.5" fill="#000" stroke="#000" stroke-width="0.15">Na</text><text transform="matrix(1.039 0 0 1 938.022 601.6)" font-size="21.5" fill="#000" stroke="#000" stroke-width="0.15">He I</text><text transform="matrix(0.965 0 0 1 188.969 621.9)" font-size="21.5" fill="#000" stroke="#000" stroke-width="0.15">H<tspan font-style="italic">δ</tspan></text><text transform="matrix(1.044 0 0 1 258.912 580.3)" font-size="21.5" fill="#000" stroke="#000" stroke-width="0.15">H<tspan font-style="italic">γ</tspan></text><text transform="matrix(1.02 0 0 1 411.86 478.1)" font-size="21.5" fill="#000" stroke="#000" stroke-width="0.15">H<tspan font-style="italic">β</tspan></text><text transform="matrix(1.015 0 0 1 932.669 458.1)" font-size="21.5" fill="#000" stroke="#000" stroke-width="0.15">H<tspan font-style="italic">α</tspan></text><text transform="matrix(1.02 0 0 1 196.98 371.75)" font-size="27.5" fill="#000" stroke="#000" stroke-width="0.4">Ca II K (Angstrom)</text><text transform="matrix(1.042 0 0 1 729.616 371.3)" font-size="27.5" fill="#000" stroke="#000" stroke-width="0.4">H<tspan font-style="italic">α</tspan> (Angstrom)</text><text transform="translate(177.1,313.1) rotate(-30) scale(1.05,1) translate(-30.5,9.5)" font-size="27.5" fill="#000" stroke="#000" stroke-width="0.4">3932</text><text transform="translate(266.7,313.1) rotate(-30) scale(1.05,1) translate(-30.5,9.5)" font-size="27.5" fill="#000" stroke="#000" stroke-width="0.4">3933</text><text transform="translate(356.3,313.1) rotate(-30) scale(1.05,1) translate(-31,9.5)" font-size="27.5" fill="#000" stroke="#000" stroke-width="0.4">3934</text><text transform="translate(446,313.1) rotate(-30) scale(1.05,1) translate(-30.5,9.5)" font-size="27.5" fill="#000" stroke="#000" stroke-width="0.4">3935</text><text transform="translate(75,74.9) rotate(-45) scale(1.03,1) translate(-43,9.5)" font-size="27.5" fill="#000" stroke="#000" stroke-width="0.4">Mar 07</text><text transform="translate(75,146.6) rotate(-45) scale(1.03,1) translate(-43.5,9.5)" font-size="27.5" fill="#000" stroke="#000" stroke-width="0.4">Mar 13</text><text transform="translate(75,218.7) rotate(-45) scale(1.03,1) translate(-43,9.5)" font-size="27.5" fill="#000" stroke="#000" stroke-width="0.4">Mar 19</text><text transform="translate(75,290.6) rotate(-45) scale(1.03,1) translate(-43.5,9.5)" font-size="27.5" fill="#000" stroke="#000" stroke-width="0.4">Mar 24</text><text transform="translate(687.9,313.1) rotate(-30) scale(1.05,1) translate(-30.5,9.5)" font-size="27.5" fill="#000" stroke="#000" stroke-width="0.4">6561</text><text transform="translate(777.5,313.1) rotate(-30) scale(1.05,1) translate(-30.5,9.5)" font-size="27.5" fill="#000" stroke="#000" stroke-width="0.4">6562</text><text transform="translate(867.1,313.1) rotate(-30) scale(1.05,1) translate(-30.5,9.5)" font-size="27.5" fill="#000" stroke="#000" stroke-width="0.4">6563</text><text transform="translate(956.7,313.1) rotate(-30) scale(1.05,1) translate(-31,9.5)" font-size="27.5" fill="#000" stroke="#000" stroke-width="0.4">6564</text><text transform="translate(585.25,74.9) rotate(-45) scale(1.03,1) translate(-43,9.5)" font-size="27.5" fill="#000" stroke="#000" stroke-width="0.4">Mar 07</text><text transform="translate(585.25,146.6) rotate(-45) scale(1.03,1) translate(-43.5,9.5)" font-size="27.5" fill="#000" stroke="#000" stroke-width="0.4">Mar 13</text><text transform="translate(585.25,218.7) rotate(-45) scale(1.03,1) translate(-43,9.5)" font-size="27.5" fill="#000" stroke="#000" stroke-width="0.4">Mar 19</text><text transform="translate(585.25,290.6) rotate(-45) scale(1.03,1) translate(-43.5,9.5)" font-size="27.5" fill="#000" stroke="#000" stroke-width="0.4">Mar 24</text><path d="M148.9 615.2V615.1Q148.9 612.5 151.5 612.5H154.45Q157.05 612.5 157.05 609.3Q157.05 612.5 159.65 612.5H162.6Q165.2 612.5 165.2 615.1V615.2" fill="none" stroke="#000" stroke-width="2" stroke-linecap="round"/><path d="M307.9 635.6V635.4Q307.9 632.8 310.5 632.8H313.45Q316.05 632.8 316.05 629.6Q316.05 632.8 318.65 632.8H321.6Q324.2 632.8 324.2 635.4V635.6" fill="none" stroke="#000" stroke-width="2" stroke-linecap="round"/><path d="M570.7 625.5V625.3Q570.7 622.7 573.3 622.7H576.05Q578.65 622.7 578.65 620.2Q578.65 622.7 581.25 622.7H584Q586.6 622.7 586.6 625.3V625.5" fill="none" stroke="#000" stroke-width="2" stroke-linecap="round"/></g></svg></body></html>
